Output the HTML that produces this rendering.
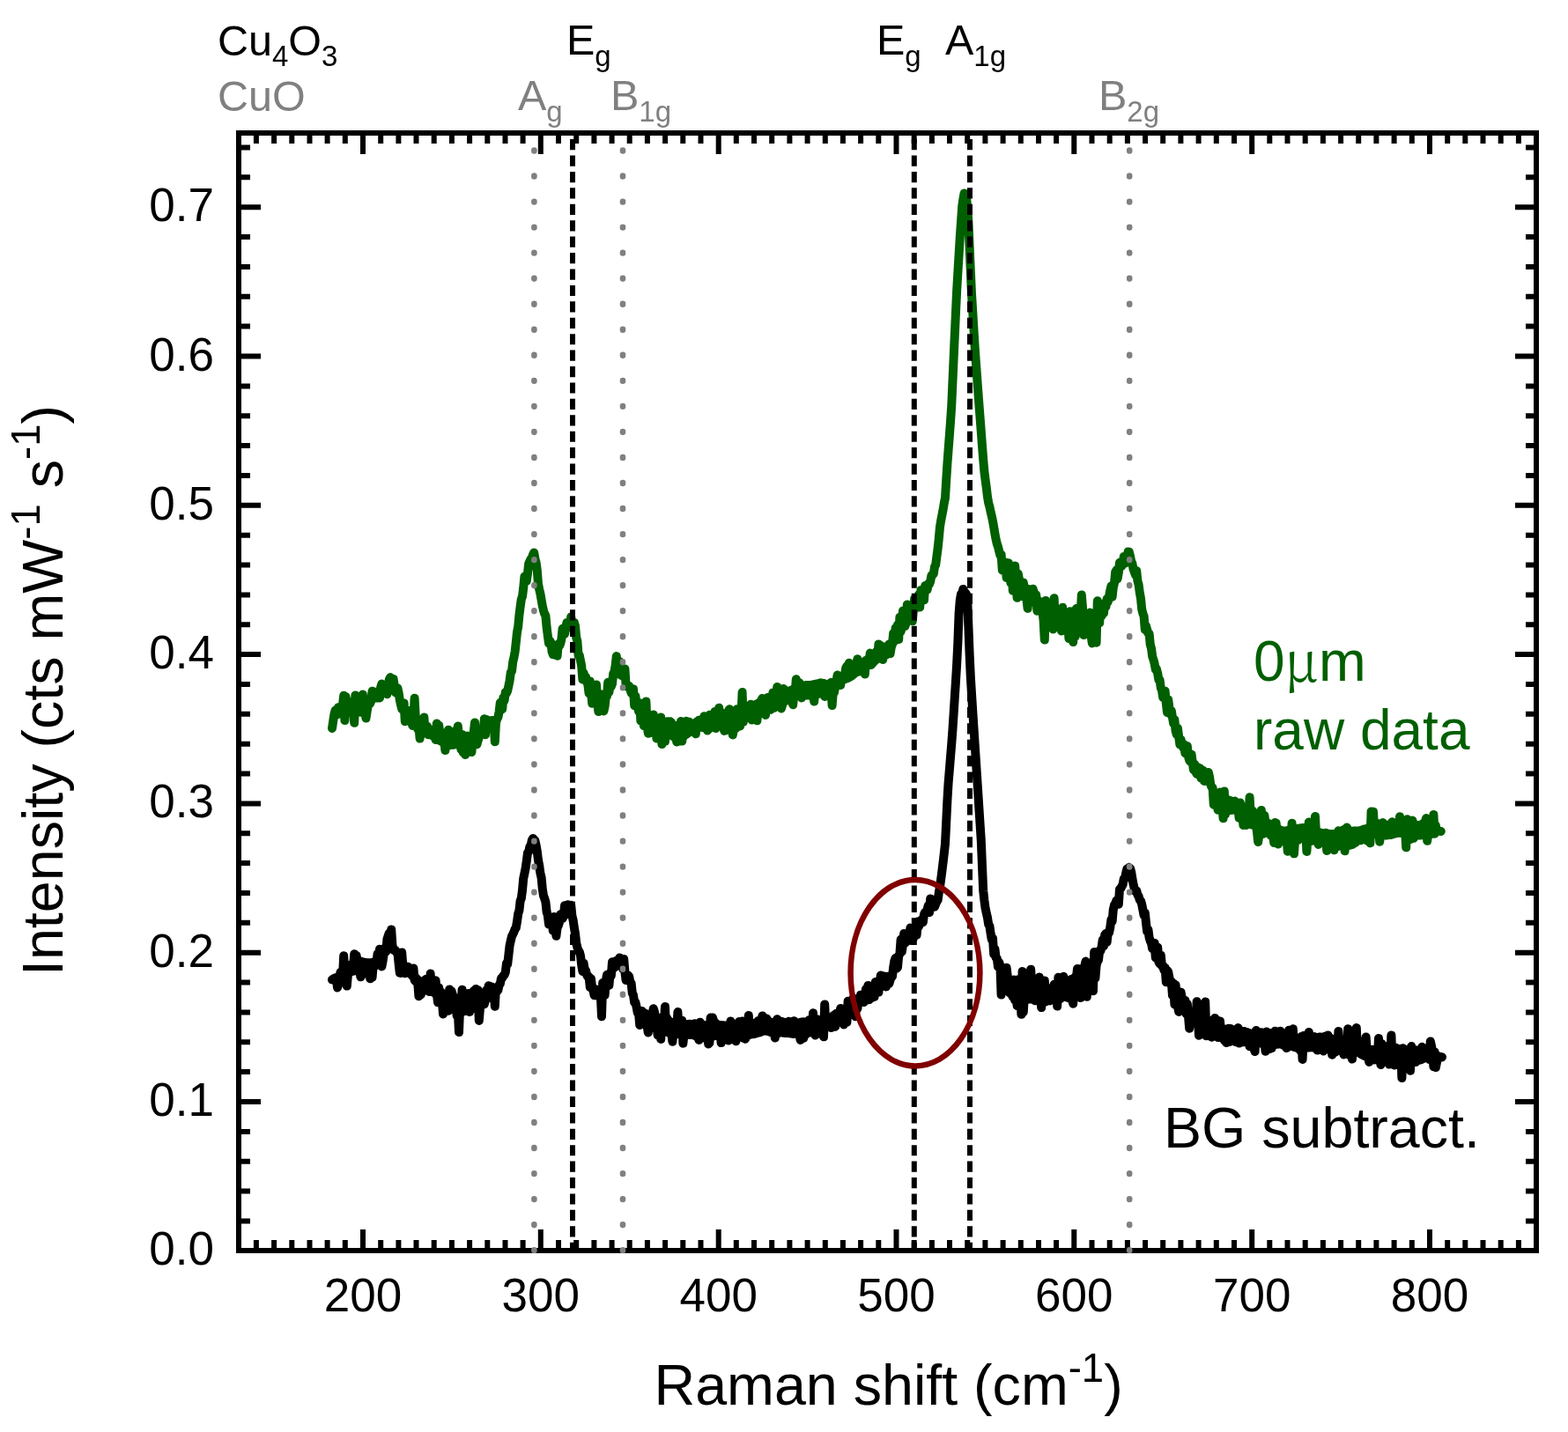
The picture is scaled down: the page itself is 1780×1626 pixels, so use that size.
<!DOCTYPE html>
<html><head><meta charset="utf-8"><title>Raman spectra</title>
<style>html,body{margin:0;padding:0;background:#fff;}svg{display:block;}</style>
</head><body>
<svg width="1780" height="1626" viewBox="0 0 1780 1626"><rect width="100%" height="100%" fill="#fff"/><path d="M377.0 826.9L379.4 810.9L381.8 805.8L384.2 804.4L386.6 803.5L389.0 799.3L391.4 794.4L393.8 794.4L396.2 793.2L398.6 791.7L401.0 789.9L403.4 788.3L405.8 787.4L408.2 787.6L410.6 788.0L413.0 791.2L415.4 793.2L417.8 792.3L420.2 790.1L422.6 787.5L425.0 784.6L427.4 781.6L429.8 779.3L432.2 777.5L434.6 775.9L437.0 774.0L439.4 772.1L441.8 773.6L444.2 773.2L446.6 775.8L449.0 778.1L451.4 783.1L453.8 790.1L456.2 796.7L458.6 802.9L461.0 809.0L463.4 810.4L465.8 810.8L468.2 810.1L470.6 808.4L473.0 809.6L475.4 811.5L477.8 813.5L480.2 815.8L482.6 818.4L485.0 821.0L487.4 823.1L489.8 825.0L492.2 826.4L494.6 827.5L497.0 827.6L499.4 827.6L501.8 827.9L504.2 829.0L506.6 830.2L509.0 830.5L511.4 830.4L513.8 829.7L516.2 828.9L518.6 828.8L521.0 829.3L523.4 829.9L525.8 830.6L528.2 831.2L530.6 830.5L533.0 831.1L535.4 832.7L537.8 833.8L540.2 833.6L542.6 831.0L545.0 828.0L547.4 824.9L549.8 822.5L552.2 821.0L554.6 820.3L557.0 821.7L559.4 822.4L561.8 822.3L564.2 817.4L566.6 811.5L569.0 804.8L571.4 797.3L573.8 789.3L576.2 781.3L578.6 769.7L581.0 758.5L583.4 744.4L585.8 728.5L588.2 709.1L590.6 689.5L593.0 673.9L595.4 659.6L597.8 647.8L600.2 639.2L602.6 631.8L605.0 628.1L607.4 631.9L609.8 647.5L612.2 666.8L614.6 678.2L617.0 689.8L619.4 702.0L621.8 714.2L624.2 725.6L626.6 729.9L629.0 733.8L631.4 737.5L633.8 734.0L636.2 728.2L638.6 722.0L641.0 714.6L643.4 706.3L645.8 702.1L648.2 704.7L650.6 707.5L653.0 715.2L655.4 729.2L657.8 742.6L660.2 755.6L662.6 766.4L665.0 770.8L667.4 775.2L669.8 779.9L672.2 783.8L674.6 787.4L677.0 791.2L679.4 795.5L681.8 799.5L684.2 801.4L686.6 793.3L689.0 785.0L691.4 777.0L693.8 770.2L696.2 763.6L698.6 758.9L701.0 755.3L703.4 755.3L705.8 758.8L708.2 763.6L710.6 769.3L713.0 774.7L715.4 780.6L717.8 786.7L720.2 792.7L722.6 797.5L725.0 802.0L727.4 806.3L729.8 809.4L732.2 812.1L734.6 815.3L737.0 817.7L739.4 818.5L741.8 818.5L744.2 817.7L746.6 816.7L749.0 816.6L751.4 817.2L753.8 817.8L756.2 818.0L758.6 818.1L761.0 818.2L763.4 818.6L765.8 818.8L768.2 819.3L770.6 820.0L773.0 821.9L775.4 823.3L777.8 822.9L780.2 821.7L782.6 820.1L785.0 818.2L787.4 816.1L789.8 814.5L792.2 813.4L794.6 812.6L797.0 811.6L799.4 810.9L801.8 810.8L804.2 810.7L806.6 810.3L809.0 809.5L811.4 808.7L813.8 808.2L816.2 807.9L818.6 807.7L821.0 807.9L823.4 808.5L825.8 809.0L828.2 808.9L830.6 807.8L833.0 806.4L835.4 804.8L837.8 803.2L840.2 801.7L842.6 800.4L845.0 799.3L847.4 798.4L849.8 797.5L852.2 797.0L854.6 796.1L857.0 794.9L859.4 793.6L861.8 792.7L864.2 792.3L866.6 792.8L869.0 792.7L871.4 791.8L873.8 790.2L876.2 788.2L878.6 786.1L881.0 784.3L883.4 783.0L885.8 782.2L888.2 781.4L890.6 780.8L893.0 780.5L895.4 779.6L897.8 778.4L900.2 777.2L902.6 776.0L905.0 775.1L907.4 774.5L909.8 774.0L912.2 773.5L914.6 772.9L917.0 772.9L919.4 772.9L921.8 772.6L924.2 772.1L926.6 771.6L929.0 771.2L931.4 770.9L933.8 770.7L936.2 771.1L938.6 772.1L941.0 773.1L943.4 773.1L945.8 771.6L948.2 769.5L950.6 767.3L953.0 764.9L955.4 762.8L957.8 761.0L960.2 759.5L962.6 758.0L965.0 757.0L967.4 756.0L969.8 754.6L972.2 752.8L974.6 750.7L977.0 748.6L979.4 746.7L981.8 745.3L984.2 743.9L986.6 742.3L989.0 740.3L991.4 738.9L993.8 737.8L996.2 738.1L998.6 738.4L1001.0 738.4L1003.4 737.7L1005.8 734.8L1008.2 731.2L1010.6 727.6L1013.0 723.9L1015.4 719.3L1017.8 714.3L1020.2 709.2L1022.6 704.8L1025.0 700.7L1027.4 696.7L1029.8 693.2L1032.2 690.6L1034.6 688.1L1037.0 685.7L1039.4 682.9L1041.8 679.3L1044.2 675.4L1046.6 671.2L1049.0 666.1L1051.4 660.8L1053.8 656.9L1056.2 652.8L1058.6 648.7L1061.0 644.7L1063.4 632.0L1065.8 609.7L1068.2 590.5L1070.6 577.5L1073.0 564.3L1075.4 526.1L1077.8 494.3L1080.2 460.6L1082.6 406.8L1085.0 353.8L1087.4 308.5L1089.8 268.6L1092.2 234.2L1094.6 222.0L1097.0 222.9L1099.4 252.2L1101.8 306.3L1104.2 353.0L1106.6 392.7L1109.0 426.1L1111.4 458.2L1113.8 489.7L1116.2 521.0L1118.6 544.3L1121.0 563.8L1123.4 574.9L1125.8 586.0L1128.2 597.3L1130.6 610.9L1133.0 621.5L1135.4 626.5L1137.8 631.8L1140.2 638.0L1142.6 644.0L1145.0 650.9L1147.4 652.7L1149.8 653.7L1152.2 653.9L1154.6 653.4L1157.0 653.8L1159.4 656.7L1161.8 659.3L1164.2 661.5L1166.6 663.9L1169.0 666.3L1171.4 670.6L1173.8 674.6L1176.2 678.3L1178.6 681.9L1181.0 685.4L1183.4 687.3L1185.8 688.1L1188.2 688.8L1190.6 689.9L1193.0 691.8L1195.4 693.1L1197.8 693.7L1200.2 693.6L1202.6 694.6L1205.0 695.4L1207.4 696.9L1209.8 698.8L1212.2 700.7L1214.6 702.3L1217.0 703.5L1219.4 703.7L1221.8 701.4L1224.2 699.8L1226.6 698.7L1229.0 698.1L1231.4 698.0L1233.8 698.2L1236.2 700.7L1238.6 703.4L1241.0 705.0L1243.4 705.4L1245.8 702.3L1248.2 698.0L1250.6 693.4L1253.0 688.9L1255.4 683.9L1257.8 677.2L1260.2 669.9L1262.6 662.5L1265.0 654.4L1267.4 646.8L1269.8 643.0L1272.2 640.2L1274.6 636.5L1277.0 632.9L1279.4 629.9L1281.8 625.5L1284.2 633.5L1286.6 642.9L1289.0 651.9L1291.4 661.6L1293.8 671.5L1296.2 685.7L1298.6 701.6L1301.0 710.1L1303.4 718.2L1305.8 727.7L1308.2 737.8L1310.6 748.3L1313.0 758.8L1315.4 769.9L1317.8 779.7L1320.2 786.5L1322.6 792.7L1325.0 798.6L1327.4 804.4L1329.8 811.0L1332.2 818.0L1334.6 825.0L1337.0 831.1L1339.4 835.6L1341.8 839.3L1344.2 842.6L1346.6 846.3L1349.0 850.5L1351.4 854.2L1353.8 857.7L1356.2 860.9L1358.6 863.8L1361.0 866.9L1363.4 869.8L1365.8 873.2L1368.2 876.9L1370.6 879.9L1373.0 882.7L1375.4 886.6L1377.8 893.5L1380.2 900.4L1382.6 906.7L1385.0 908.6L1387.4 908.6L1389.8 907.1L1392.2 903.9L1394.6 903.0L1397.0 903.9L1399.4 904.7L1401.8 905.7L1404.2 908.4L1406.6 911.6L1409.0 914.8L1411.4 917.4L1413.8 919.5L1416.2 921.2L1418.6 922.4L1421.0 923.4L1423.4 924.7L1425.8 926.1L1428.2 927.2L1430.6 927.9L1433.0 928.4L1435.4 928.3L1437.8 928.3L1440.2 929.4L1442.6 930.8L1445.0 931.6L1447.4 932.4L1449.8 933.6L1452.2 935.7L1454.6 937.5L1457.0 938.5L1459.4 938.6L1461.8 937.8L1464.2 936.6L1466.6 936.5L1469.0 936.3L1471.4 936.1L1473.8 935.8L1476.2 935.3L1478.6 935.0L1481.0 935.1L1483.4 935.2L1485.8 935.7L1488.2 936.6L1490.6 937.8L1493.0 939.0L1495.4 939.8L1497.8 940.3L1500.2 940.8L1502.6 941.2L1505.0 941.8L1507.4 942.2L1509.8 942.2L1512.2 942.0L1514.6 942.0L1517.0 942.6L1519.4 943.3L1521.8 943.5L1524.2 943.1L1526.6 942.3L1529.0 941.3L1531.4 940.1L1533.8 939.1L1536.2 938.5L1538.6 938.4L1541.0 938.5L1543.4 938.5L1545.8 938.0L1548.2 937.0L1550.6 935.8L1553.0 934.8L1555.4 933.9L1557.8 932.9L1560.2 932.0L1562.6 931.5L1565.0 931.3L1567.4 931.3L1569.8 931.5L1572.2 932.0L1574.6 932.0L1577.0 931.6L1579.4 931.2L1581.8 930.7L1584.2 930.1L1586.6 929.5L1589.0 929.3L1591.4 929.3L1593.8 929.5L1596.2 930.1L1598.6 930.9L1601.0 931.7L1603.4 932.1L1605.8 932.2L1608.2 932.1L1610.6 932.1L1613.0 932.0L1615.4 931.5L1617.8 930.8L1620.2 930.3L1622.6 930.4L1625.0 941.3L1627.4 942.0L1629.8 942.7L1632.2 943.2L1634.6 943.6L1634.6 943.8L1632.2 943.4L1629.8 942.9L1627.4 942.2L1625.0 941.7L1622.6 951.8L1620.2 951.7L1617.8 952.3L1615.4 953.1L1613.0 953.5L1610.6 953.6L1608.2 953.6L1605.8 953.4L1603.4 953.3L1601.0 952.8L1598.6 952.1L1596.2 951.3L1593.8 950.7L1591.4 950.5L1589.0 950.6L1586.6 951.0L1584.2 951.5L1581.8 952.2L1579.4 952.7L1577.0 953.0L1574.6 953.5L1572.2 953.5L1569.8 953.3L1567.4 952.7L1565.0 952.1L1562.6 951.9L1560.2 952.3L1557.8 953.1L1555.4 954.1L1553.0 955.0L1550.6 956.0L1548.2 957.2L1545.8 958.2L1543.4 958.7L1541.0 958.9L1538.6 958.7L1536.2 958.7L1533.8 959.3L1531.4 960.3L1529.0 961.5L1526.6 962.5L1524.2 963.3L1521.8 963.8L1519.4 964.0L1517.0 964.0L1514.6 963.9L1512.2 963.6L1509.8 963.4L1507.4 963.4L1505.0 963.1L1502.6 962.2L1500.2 961.2L1497.8 960.4L1495.4 959.9L1493.0 959.1L1490.6 957.9L1488.2 956.7L1485.8 955.8L1483.4 955.3L1481.0 955.5L1478.6 956.2L1476.2 956.9L1473.8 957.4L1471.4 957.8L1469.0 958.0L1466.6 958.2L1464.2 957.9L1461.8 957.2L1459.4 956.9L1457.0 956.7L1454.6 955.8L1452.2 954.0L1449.8 951.9L1447.4 950.6L1445.0 949.9L1442.6 949.4L1440.2 949.3L1437.8 949.0L1435.4 948.3L1433.0 947.5L1430.6 946.4L1428.2 945.2L1425.8 943.9L1423.4 942.2L1421.0 940.0L1418.6 937.8L1416.2 935.5L1413.8 933.4L1411.4 931.2L1409.0 928.6L1406.6 925.5L1404.2 922.3L1401.8 919.6L1399.4 918.5L1397.0 918.8L1394.6 920.5L1392.2 920.8L1389.8 918.6L1387.4 917.2L1385.0 916.4L1382.6 914.6L1380.2 908.2L1377.8 901.4L1375.4 894.5L1373.0 890.6L1370.6 887.9L1368.2 886.2L1365.8 884.8L1363.4 882.6L1361.0 879.4L1358.6 875.8L1356.2 872.1L1353.8 868.7L1351.4 865.1L1349.0 861.4L1346.6 856.7L1344.2 851.6L1341.8 847.2L1339.4 842.9L1337.0 838.4L1334.6 832.3L1332.2 825.2L1329.8 818.2L1327.4 811.4L1325.0 804.5L1322.6 798.0L1320.2 791.3L1317.8 784.5L1315.4 774.7L1313.0 763.6L1310.6 753.1L1308.2 742.6L1305.8 732.0L1303.4 722.3L1301.0 714.1L1298.6 705.6L1296.2 689.7L1293.8 675.6L1291.4 665.7L1289.0 655.9L1286.6 647.0L1284.2 638.5L1281.8 631.0L1279.4 635.6L1277.0 641.4L1274.6 645.3L1272.2 647.3L1269.8 649.6L1267.4 653.4L1265.0 661.0L1262.6 669.1L1260.2 676.5L1257.8 683.8L1255.4 690.5L1253.0 695.7L1250.6 700.9L1248.2 706.2L1245.8 711.3L1243.4 715.1L1241.0 715.1L1238.6 716.2L1236.2 718.0L1233.8 719.0L1231.4 717.5L1229.0 717.5L1226.6 718.1L1224.2 719.2L1221.8 720.7L1219.4 721.7L1217.0 721.1L1214.6 719.9L1212.2 718.3L1209.8 716.4L1207.4 714.4L1205.0 712.9L1202.6 712.2L1200.2 712.0L1197.8 711.0L1195.4 710.4L1193.0 709.0L1190.6 706.6L1188.2 703.6L1185.8 701.0L1183.4 699.3L1181.0 697.0L1178.6 693.5L1176.2 689.9L1173.8 686.1L1171.4 682.1L1169.0 677.8L1166.6 675.4L1164.2 673.5L1161.8 672.3L1159.4 671.6L1157.0 670.8L1154.6 668.0L1152.2 664.6L1149.8 662.2L1147.4 660.2L1145.0 658.4L1142.6 651.6L1140.2 643.9L1137.8 636.6L1135.4 630.7L1133.0 625.7L1130.6 614.9L1128.2 600.5L1125.8 588.5L1123.4 576.9L1121.0 565.6L1118.6 546.0L1116.2 522.5L1113.8 491.1L1111.4 459.4L1109.0 427.3L1106.6 393.9L1104.2 354.2L1101.8 307.4L1099.4 253.3L1097.0 224.0L1094.6 223.1L1092.2 235.3L1089.8 269.7L1087.4 309.6L1085.0 354.9L1082.6 407.9L1080.2 461.7L1077.8 495.4L1075.4 527.2L1073.0 565.6L1070.6 578.8L1068.2 592.2L1065.8 611.9L1063.4 634.7L1061.0 647.6L1058.6 651.7L1056.2 656.1L1053.8 661.9L1051.4 668.9L1049.0 675.1L1046.6 680.1L1044.2 684.4L1041.8 688.6L1039.4 692.8L1037.0 696.5L1034.6 699.7L1032.2 702.0L1029.8 703.8L1027.4 706.7L1025.0 710.5L1022.6 714.6L1020.2 719.0L1017.8 724.0L1015.4 729.1L1013.0 733.6L1010.6 737.3L1008.2 741.4L1005.8 745.6L1003.4 749.1L1001.0 750.3L998.6 752.0L996.2 754.3L993.8 756.9L991.4 758.1L989.0 759.4L986.6 760.5L984.2 761.2L981.8 762.2L979.4 763.6L977.0 765.4L974.6 767.5L972.2 769.6L969.8 771.5L967.4 772.9L965.0 774.3L962.6 775.2L960.2 775.9L957.8 777.1L955.4 778.9L953.0 781.0L950.6 783.4L948.2 785.7L945.8 787.7L943.4 789.2L941.0 789.7L938.6 790.6L936.2 791.6L933.8 792.3L931.4 792.5L929.0 792.8L926.6 793.2L924.2 793.7L921.8 794.2L919.4 794.5L917.0 794.6L914.6 794.6L912.2 794.6L909.8 794.4L907.4 794.4L905.0 794.9L902.6 795.8L900.2 797.0L897.8 798.2L895.4 799.4L893.0 800.3L890.6 800.7L888.2 800.1L885.8 799.6L883.4 800.1L881.0 801.4L878.6 803.3L876.2 805.4L873.8 807.4L871.4 808.9L869.0 809.9L866.6 810.8L864.2 811.8L861.8 812.6L859.4 813.5L857.0 814.8L854.6 816.0L852.2 816.9L849.8 817.4L847.4 817.5L845.0 817.9L842.6 818.9L840.2 820.1L837.8 821.7L835.4 823.3L833.0 824.9L830.6 826.3L828.2 827.4L825.8 827.8L823.4 828.4L821.0 829.0L818.6 829.0L816.2 829.1L813.8 829.4L811.4 829.9L809.0 830.7L806.6 831.4L804.2 831.9L801.8 832.0L799.4 831.6L797.0 830.9L794.6 830.5L792.2 830.8L789.8 831.9L787.4 833.5L785.0 835.6L782.6 837.5L780.2 839.1L777.8 840.3L775.4 841.2L773.0 841.0L770.6 840.9L768.2 840.2L765.8 839.7L763.4 839.5L761.0 839.6L758.6 839.5L756.2 839.4L753.8 839.1L751.4 838.5L749.0 837.8L746.6 836.5L744.2 834.4L741.8 832.9L739.4 831.4L737.0 829.9L734.6 826.7L732.2 822.7L729.8 819.0L727.4 815.3L725.0 810.4L722.6 805.8L720.2 801.1L717.8 795.1L715.4 788.9L713.0 783.1L710.6 777.7L708.2 771.9L705.8 767.3L703.4 764.1L701.0 762.9L698.6 765.7L696.2 770.0L693.8 776.6L691.4 783.4L689.0 791.5L686.6 799.7L684.2 807.8L681.8 805.9L679.4 803.6L677.0 800.9L674.6 796.9L672.2 792.1L669.8 786.1L667.4 780.1L665.0 774.8L662.6 770.3L660.2 759.5L657.8 746.5L655.4 733.0L653.0 719.1L650.6 711.4L648.2 708.8L645.8 707.4L643.4 713.2L641.0 721.5L638.6 728.9L636.2 735.1L633.8 740.9L631.4 743.7L629.0 738.7L626.6 734.2L624.2 729.9L621.8 718.3L619.4 705.5L617.0 693.3L614.6 681.7L612.2 670.2L609.8 650.9L607.4 635.4L605.0 631.5L602.6 635.6L600.2 642.6L597.8 650.8L595.4 662.5L593.0 676.8L590.6 692.4L588.2 712.0L585.8 731.4L583.4 747.3L581.0 761.4L578.6 772.8L576.2 784.7L573.8 793.3L571.4 801.8L569.0 810.0L566.6 817.2L564.2 823.8L561.8 829.2L559.4 830.0L557.0 831.5L554.6 834.0L552.2 835.2L549.8 836.7L547.4 839.1L545.0 842.2L542.6 845.2L540.2 847.8L537.8 848.0L535.4 848.5L533.0 850.2L530.6 851.8L528.2 852.5L525.8 852.0L523.4 851.3L521.0 850.6L518.6 850.2L516.2 850.2L513.8 850.8L511.4 850.8L509.0 850.7L506.6 850.5L504.2 849.3L501.8 848.0L499.4 846.5L497.0 845.3L494.6 844.2L492.2 842.2L489.8 840.4L487.4 838.5L485.0 836.3L482.6 833.8L480.2 831.2L477.8 828.9L475.4 826.8L473.0 825.2L470.6 824.6L468.2 822.0L465.8 819.9L463.4 818.1L461.0 816.6L458.6 810.4L456.2 804.2L453.8 797.6L451.4 790.6L449.0 785.6L446.6 783.5L444.2 782.2L441.8 785.0L439.4 789.7L437.0 790.7L434.6 791.0L432.2 791.9L429.8 793.6L427.4 796.0L425.0 799.0L422.6 801.9L420.2 804.5L417.8 806.7L415.4 807.8L413.0 807.2L410.6 807.7L408.2 806.1L405.8 805.7L403.4 806.6L401.0 808.2L398.6 810.0L396.2 811.5L393.8 812.7L391.4 812.9L389.0 808.0L386.6 803.7L384.2 804.6L381.8 806.0L379.4 811.1L377.0 827.1Z" fill="#005f00"/><path d="M377.0 827.0L378.2 819.1L379.4 811.0L380.6 806.6L381.8 805.9L383.0 811.3L384.2 803.3L385.4 803.1L386.6 805.2L387.8 803.5L389.0 800.2L390.2 789.7L391.4 818.0L392.6 791.3L393.8 800.8L395.0 808.1L396.2 805.3L397.4 806.1L398.6 806.8L399.8 809.8L401.0 801.4L402.2 820.8L403.4 789.5L404.6 798.5L405.8 793.7L407.0 792.3L408.2 799.1L409.4 808.7L410.6 792.3L411.8 788.5L413.0 804.8L414.2 804.1L415.4 815.6L416.6 808.2L417.8 801.2L419.0 796.0L420.2 798.9L421.4 794.8L422.6 784.7L423.8 793.3L425.0 790.5L426.2 788.5L427.4 785.6L428.6 792.6L429.8 791.6L431.0 792.5L432.2 780.2L433.4 776.4L434.6 781.4L435.8 784.8L437.0 779.7L438.2 780.2L439.4 788.2L440.6 782.4L441.8 771.6L443.0 769.1L444.2 772.6L445.4 780.0L446.6 771.0L447.8 779.5L449.0 786.5L450.2 783.6L451.4 781.2L452.6 786.7L453.8 794.6L455.0 800.1L456.2 805.2L457.4 802.6L458.6 798.2L459.8 819.3L461.0 814.9L462.2 816.5L463.4 816.5L464.6 807.1L465.8 812.9L467.0 817.7L468.2 823.9L469.4 816.7L470.6 792.7L471.8 814.9L473.0 820.1L474.2 828.0L475.4 824.5L476.6 838.6L477.8 831.7L479.0 832.3L480.2 830.5L481.4 814.5L482.6 832.4L483.8 831.9L485.0 824.7L486.2 834.2L487.4 834.0L488.6 828.3L489.8 831.8L491.0 831.6L492.2 836.1L493.4 831.8L494.6 840.0L495.8 821.5L497.0 834.3L498.2 823.7L499.4 833.3L500.6 841.4L501.8 838.1L503.0 837.7L504.2 839.7L505.4 852.1L506.6 831.7L507.8 847.4L509.0 828.8L510.2 837.0L511.4 841.9L512.6 833.8L513.8 841.8L515.0 845.6L516.2 830.2L517.4 838.7L518.6 836.6L519.8 824.6L521.0 838.5L522.2 834.1L523.4 851.0L524.6 834.1L525.8 854.5L527.0 837.5L528.2 856.9L529.4 845.7L530.6 844.7L531.8 847.1L533.0 847.7L534.2 851.5L535.4 854.1L536.6 838.1L537.8 831.2L539.0 820.4L540.2 837.7L541.4 845.3L542.6 841.0L543.8 837.5L545.0 832.4L546.2 828.7L547.4 829.9L548.6 833.6L549.8 816.3L551.0 834.2L552.2 817.1L553.4 826.3L554.6 822.3L555.8 824.0L557.0 823.2L558.2 817.9L559.4 824.5L560.6 818.5L561.8 842.2L563.0 820.7L564.2 816.5L565.4 814.3L566.6 808.4L567.8 797.8L569.0 806.0L570.2 805.3L571.4 792.0L572.6 795.4L573.8 785.9L575.0 787.1L576.2 784.3L577.4 778.8L578.6 772.7L579.8 763.5L581.0 762.3L582.2 751.8L583.4 746.6L584.6 740.1L585.8 729.3L587.0 717.8L588.2 711.6L589.4 698.6L590.6 689.2L591.8 680.5L593.0 677.3L594.2 667.6L595.4 654.6L596.6 657.6L597.8 659.9L599.0 650.8L600.2 640.1L601.4 637.4L602.6 634.7L603.8 633.5L605.0 629.9L606.2 627.4L607.4 634.7L608.6 638.8L609.8 647.9L611.0 663.3L612.2 669.1L613.4 674.1L614.6 681.2L615.8 688.0L617.0 693.2L618.2 697.0L619.4 699.2L620.6 712.2L621.8 721.6L623.0 730.6L624.2 727.5L625.4 729.7L626.6 740.0L627.8 743.3L629.0 738.6L630.2 743.8L631.4 734.5L632.6 744.7L633.8 731.3L635.0 733.5L636.2 730.8L637.4 725.8L638.6 713.8L639.8 717.4L641.0 720.0L642.2 713.4L643.4 706.9L644.6 708.6L645.8 709.8L647.0 712.1L648.2 700.5L649.4 708.1L650.6 707.5L651.8 706.6L653.0 710.6L654.2 723.8L655.4 728.1L656.6 744.3L657.8 744.2L659.0 750.3L660.2 756.1L661.4 771.5L662.6 764.1L663.8 769.7L665.0 768.6L666.2 774.3L667.4 777.3L668.6 787.4L669.8 773.5L671.0 785.6L672.2 798.8L673.4 786.5L674.6 790.8L675.8 787.8L677.0 777.5L678.2 797.0L679.4 808.1L680.6 797.4L681.8 788.1L683.0 806.1L684.2 805.1L685.4 807.4L686.6 802.2L687.8 790.7L689.0 790.3L690.2 774.7L691.4 785.9L692.6 777.7L693.8 779.6L695.0 776.4L696.2 764.9L697.4 762.9L698.6 755.9L699.8 745.1L701.0 758.0L702.2 759.2L703.4 751.2L704.6 766.5L705.8 763.6L707.0 767.8L708.2 762.6L709.4 759.4L710.6 778.2L711.8 779.8L713.0 778.2L714.2 779.1L715.4 783.0L716.6 786.9L717.8 787.9L719.0 782.4L720.2 801.3L721.4 790.5L722.6 799.5L723.8 802.0L725.0 807.8L726.2 798.1L727.4 818.6L728.6 816.9L729.8 819.2L731.0 824.3L732.2 811.7L733.4 796.4L734.6 823.4L735.8 832.7L737.0 832.5L738.2 820.2L739.4 824.2L740.6 827.5L741.8 811.6L743.0 820.6L744.2 821.1L745.4 838.6L746.6 821.5L747.8 839.1L749.0 827.2L750.2 814.4L751.4 845.1L752.6 820.6L753.8 833.3L755.0 841.9L756.2 824.5L757.4 819.2L758.6 831.4L759.8 829.3L761.0 819.3L762.2 820.5L763.4 826.0L764.6 836.6L765.8 827.0L767.0 834.6L768.2 842.6L769.4 839.9L770.6 841.6L771.8 840.5L773.0 818.9L774.2 841.5L775.4 834.8L776.6 831.0L777.8 823.2L779.0 818.8L780.2 821.8L781.4 829.5L782.6 819.7L783.8 821.6L785.0 822.1L786.2 831.0L787.4 822.6L788.6 822.8L789.8 833.4L791.0 820.1L792.2 826.7L793.4 817.8L794.6 824.1L795.8 822.3L797.0 822.6L798.2 823.6L799.4 813.2L800.6 819.0L801.8 817.8L803.0 829.5L804.2 828.4L805.4 811.8L806.6 825.7L807.8 816.8L809.0 823.7L810.2 815.9L811.4 807.9L812.6 826.9L813.8 822.3L815.0 809.0L816.2 803.7L817.4 814.2L818.6 809.2L819.8 815.6L821.0 823.3L822.2 829.9L823.4 815.7L824.6 829.2L825.8 827.5L827.0 806.9L828.2 805.2L829.4 824.2L830.6 821.8L831.8 834.5L833.0 826.7L834.2 820.9L835.4 827.1L836.6 805.2L837.8 813.9L839.0 809.6L840.2 824.4L841.4 814.6L842.6 786.1L843.8 819.7L845.0 801.7L846.2 814.3L847.4 804.3L848.6 809.7L849.8 812.5L851.0 808.8L852.2 799.7L853.4 817.5L854.6 809.3L855.8 805.5L857.0 810.4L858.2 800.2L859.4 818.3L860.6 804.9L861.8 805.6L863.0 805.1L864.2 795.1L865.4 792.9L866.6 803.6L867.8 804.4L869.0 811.9L870.2 804.6L871.4 792.1L872.6 803.9L873.8 805.3L875.0 805.7L876.2 799.5L877.4 786.4L878.6 803.8L879.8 788.2L881.0 797.4L882.2 780.1L883.4 797.6L884.6 785.2L885.8 799.4L887.0 804.6L888.2 800.0L889.4 781.9L890.6 783.6L891.8 784.0L893.0 795.6L894.2 792.8L895.4 790.9L896.6 791.5L897.8 793.0L899.0 792.9L900.2 800.3L901.4 786.2L902.6 787.6L903.8 771.2L905.0 774.9L906.2 779.4L907.4 775.4L908.6 786.1L909.8 792.4L911.0 780.9L912.2 780.4L913.4 780.0L914.6 784.8L915.8 779.5L917.0 787.1L918.2 786.2L919.4 786.4L920.6 789.6L921.8 783.7L923.0 784.3L924.2 796.6L925.4 782.3L926.6 788.6L927.8 782.6L929.0 778.4L930.2 778.3L931.4 775.3L932.6 781.7L933.8 776.8L935.0 778.1L936.2 790.9L937.4 780.3L938.6 790.2L939.8 783.4L941.0 788.1L942.2 776.6L943.4 774.8L944.6 801.0L945.8 786.0L947.0 786.3L948.2 779.3L949.4 774.3L950.6 766.5L951.8 767.6L953.0 776.2L954.2 778.1L955.4 767.7L956.6 768.4L957.8 766.3L959.0 766.9L960.2 758.5L961.4 756.2L962.6 765.9L963.8 752.8L965.0 758.1L966.2 759.9L967.4 756.4L968.6 765.5L969.8 759.6L971.0 761.4L972.2 753.4L973.4 748.3L974.6 762.8L975.8 760.6L977.0 753.3L978.2 758.6L979.4 756.4L980.6 755.4L981.8 765.5L983.0 749.9L984.2 755.5L985.4 755.0L986.6 749.4L987.8 741.6L989.0 754.9L990.2 750.8L991.4 748.6L992.6 747.9L993.8 747.3L995.0 739.6L996.2 748.2L997.4 731.4L998.6 744.7L999.8 733.0L1001.0 741.3L1002.2 749.0L1003.4 741.2L1004.6 738.3L1005.8 743.6L1007.0 736.0L1008.2 733.1L1009.4 731.3L1010.6 742.2L1011.8 734.6L1013.0 731.5L1014.2 718.8L1015.4 727.8L1016.6 713.1L1017.8 721.8L1019.0 709.3L1020.2 726.0L1021.4 700.7L1022.6 717.1L1023.8 712.4L1025.0 693.5L1026.2 701.6L1027.4 711.1L1028.6 707.2L1029.8 686.6L1031.0 693.4L1032.2 687.6L1033.4 687.4L1034.6 688.9L1035.8 705.2L1037.0 691.6L1038.2 679.5L1039.4 685.1L1040.6 690.1L1041.8 688.3L1043.0 675.2L1044.2 689.5L1045.4 670.1L1046.6 673.4L1047.8 676.0L1049.0 681.3L1050.2 665.1L1051.4 666.2L1052.6 669.8L1053.8 662.8L1055.0 663.3L1056.2 660.2L1057.4 653.3L1058.6 652.9L1059.8 651.5L1061.0 643.6L1062.2 641.3L1063.4 631.9L1064.6 623.0L1065.8 611.6L1067.0 598.2L1068.2 591.0L1069.4 584.9L1070.6 578.5L1071.8 571.3L1073.0 565.2L1074.2 545.1L1075.4 526.6L1076.6 510.7L1077.8 495.0L1079.0 478.8L1080.2 461.1L1081.4 434.3L1082.6 407.2L1083.8 380.6L1085.0 354.4L1086.2 329.1L1087.4 309.0L1088.6 289.1L1089.8 269.0L1091.0 251.8L1092.2 234.3L1093.4 226.0L1094.6 219.4L1095.8 222.3L1097.0 224.3L1098.2 235.5L1099.4 252.9L1100.6 279.9L1101.8 307.1L1103.0 333.7L1104.2 353.4L1105.4 373.5L1106.6 393.2L1107.8 410.7L1109.0 426.7L1110.2 442.8L1111.4 458.8L1112.6 474.5L1113.8 490.1L1115.0 506.3L1116.2 521.7L1117.4 535.5L1118.6 545.0L1119.8 554.0L1121.0 564.0L1122.2 571.2L1123.4 575.3L1124.6 581.2L1125.8 585.9L1127.0 591.7L1128.2 598.5L1129.4 605.9L1130.6 612.4L1131.8 617.5L1133.0 620.9L1134.2 625.8L1135.4 630.4L1136.6 629.5L1137.8 647.5L1139.0 638.7L1140.2 641.7L1141.4 638.5L1142.6 655.9L1143.8 641.6L1145.0 639.2L1146.2 645.6L1147.4 661.9L1148.6 644.9L1149.8 670.7L1151.0 657.6L1152.2 642.5L1153.4 656.8L1154.6 678.7L1155.8 651.7L1157.0 658.2L1158.2 667.9L1159.4 677.1L1160.6 674.9L1161.8 661.6L1163.0 667.8L1164.2 670.2L1165.4 679.9L1166.6 690.9L1167.8 669.0L1169.0 684.3L1170.2 670.1L1171.4 681.4L1172.6 668.8L1173.8 672.5L1175.0 677.9L1176.2 675.0L1177.4 693.7L1178.6 681.7L1179.8 689.5L1181.0 689.6L1182.2 688.6L1183.4 693.9L1184.6 704.4L1185.8 726.6L1187.0 681.9L1188.2 698.7L1189.4 694.5L1190.6 687.7L1191.8 701.6L1193.0 690.1L1194.2 699.7L1195.4 714.4L1196.6 679.3L1197.8 704.3L1199.0 706.7L1200.2 691.6L1201.4 708.0L1202.6 706.4L1203.8 699.2L1205.0 716.5L1206.2 689.8L1207.4 711.8L1208.6 703.4L1209.8 695.5L1211.0 705.9L1212.2 705.0L1213.4 724.9L1214.6 694.3L1215.8 708.9L1217.0 706.6L1218.2 729.1L1219.4 699.7L1220.6 722.6L1221.8 691.1L1223.0 713.2L1224.2 707.2L1225.4 712.2L1226.6 699.9L1227.8 675.4L1229.0 690.1L1230.2 721.1L1231.4 709.2L1232.6 697.8L1233.8 717.5L1235.0 699.9L1236.2 700.3L1237.4 695.5L1238.6 721.8L1239.8 730.4L1241.0 698.7L1242.2 712.3L1243.4 719.5L1244.6 729.7L1245.8 682.3L1247.0 694.5L1248.2 707.2L1249.4 685.5L1250.6 699.1L1251.8 695.4L1253.0 696.2L1254.2 685.6L1255.4 689.1L1256.6 680.0L1257.8 683.4L1259.0 677.2L1260.2 670.7L1261.4 665.6L1262.6 677.7L1263.8 667.0L1265.0 662.0L1266.2 649.5L1267.4 647.4L1268.6 657.2L1269.8 650.4L1271.0 638.8L1272.2 643.4L1273.4 642.9L1274.6 638.9L1275.8 631.9L1277.0 639.6L1278.2 636.0L1279.4 632.0L1280.6 626.6L1281.8 626.7L1283.0 631.4L1284.2 637.5L1285.4 639.8L1286.6 646.3L1287.8 649.5L1289.0 652.9L1290.2 648.0L1291.4 659.5L1292.6 663.8L1293.8 672.9L1295.0 679.3L1296.2 691.7L1297.4 696.6L1298.6 699.7L1299.8 714.9L1301.0 710.6L1302.2 715.0L1303.4 719.0L1304.6 719.5L1305.8 731.9L1307.0 736.1L1308.2 745.5L1309.4 749.0L1310.6 753.4L1311.8 760.1L1313.0 759.9L1314.2 764.7L1315.4 771.8L1316.6 772.1L1317.8 781.1L1319.0 783.7L1320.2 792.0L1321.4 791.8L1322.6 784.6L1323.8 798.3L1325.0 809.0L1326.2 794.4L1327.4 803.5L1328.6 811.0L1329.8 807.1L1331.0 814.8L1332.2 821.6L1333.4 817.4L1334.6 830.0L1335.8 834.2L1337.0 827.0L1338.2 837.0L1339.4 845.5L1340.6 839.9L1341.8 845.6L1343.0 848.9L1344.2 845.3L1345.4 855.3L1346.6 853.8L1347.8 847.1L1349.0 859.2L1350.2 863.4L1351.4 864.9L1352.6 856.7L1353.8 866.2L1355.0 874.3L1356.2 867.9L1357.4 876.3L1358.6 878.9L1359.8 871.1L1361.0 877.7L1362.2 872.4L1363.4 883.7L1364.6 876.8L1365.8 874.8L1367.0 886.9L1368.2 880.8L1369.4 885.3L1370.6 887.1L1371.8 876.9L1373.0 882.0L1374.2 890.5L1375.4 893.6L1376.6 894.4L1377.8 913.8L1379.0 907.8L1380.2 903.7L1381.4 912.3L1382.6 919.8L1383.8 914.5L1385.0 899.6L1386.2 913.4L1387.4 913.2L1388.6 929.3L1389.8 898.6L1391.0 924.5L1392.2 911.1L1393.4 919.2L1394.6 909.5L1395.8 912.8L1397.0 920.1L1398.2 912.0L1399.4 919.7L1400.6 911.4L1401.8 909.6L1403.0 912.3L1404.2 911.6L1405.4 916.1L1406.6 928.8L1407.8 911.4L1409.0 915.5L1410.2 923.0L1411.4 937.0L1412.6 933.4L1413.8 936.5L1415.0 936.9L1416.2 922.9L1417.4 930.2L1418.6 905.2L1419.8 926.4L1421.0 936.5L1422.2 921.0L1423.4 926.2L1424.6 924.6L1425.8 936.8L1427.0 944.7L1428.2 956.0L1429.4 947.8L1430.6 925.8L1431.8 919.9L1433.0 939.3L1434.2 946.8L1435.4 926.0L1436.6 934.6L1437.8 935.4L1439.0 939.6L1440.2 938.3L1441.4 944.1L1442.6 948.7L1443.8 941.4L1445.0 947.0L1446.2 957.0L1447.4 934.0L1448.6 934.4L1449.8 947.2L1451.0 958.6L1452.2 946.6L1453.4 954.8L1454.6 944.8L1455.8 954.9L1457.0 947.3L1458.2 953.5L1459.4 951.4L1460.6 951.3L1461.8 966.8L1463.0 956.2L1464.2 943.3L1465.4 954.9L1466.6 934.8L1467.8 955.6L1469.0 969.3L1470.2 951.9L1471.4 951.7L1472.6 948.1L1473.8 953.9L1475.0 943.6L1476.2 952.1L1477.4 944.6L1478.6 943.1L1479.8 947.3L1481.0 945.7L1482.2 940.9L1483.4 966.9L1484.6 947.5L1485.8 933.5L1487.0 955.5L1488.2 947.4L1489.4 949.8L1490.6 954.4L1491.8 942.5L1493.0 927.0L1494.2 949.7L1495.4 952.7L1496.6 958.9L1497.8 945.5L1499.0 949.6L1500.2 955.1L1501.4 949.9L1502.6 950.8L1503.8 955.1L1505.0 945.7L1506.2 966.0L1507.4 946.6L1508.6 954.1L1509.8 951.2L1511.0 948.2L1512.2 957.9L1513.4 961.7L1514.6 965.3L1515.8 958.6L1517.0 950.8L1518.2 961.2L1519.4 943.3L1520.6 955.0L1521.8 958.7L1523.0 958.8L1524.2 945.2L1525.4 942.1L1526.6 966.3L1527.8 948.8L1529.0 939.4L1530.2 942.0L1531.4 951.2L1532.6 959.7L1533.8 950.0L1535.0 959.0L1536.2 951.2L1537.4 953.0L1538.6 957.0L1539.8 946.4L1541.0 951.8L1542.2 946.4L1543.4 944.4L1544.6 954.2L1545.8 942.4L1547.0 948.9L1548.2 941.6L1549.4 946.5L1550.6 942.5L1551.8 954.6L1553.0 946.2L1554.2 945.6L1555.4 957.4L1556.6 921.5L1557.8 934.8L1559.0 921.7L1560.2 942.6L1561.4 945.7L1562.6 947.2L1563.8 944.1L1565.0 935.3L1566.2 955.8L1567.4 944.7L1568.6 940.5L1569.8 934.1L1571.0 946.2L1572.2 939.3L1573.4 939.6L1574.6 944.6L1575.8 944.5L1577.0 936.2L1578.2 948.1L1579.4 934.4L1580.6 933.3L1581.8 944.1L1583.0 942.3L1584.2 941.6L1585.4 937.5L1586.6 940.8L1587.8 943.1L1589.0 927.3L1590.2 945.8L1591.4 932.1L1592.6 938.3L1593.8 946.0L1595.0 940.7L1596.2 962.2L1597.4 930.3L1598.6 935.8L1599.8 942.7L1601.0 953.0L1602.2 940.7L1603.4 931.6L1604.6 951.8L1605.8 935.7L1607.0 941.4L1608.2 942.9L1609.4 937.8L1610.6 939.5L1611.8 941.9L1613.0 941.3L1614.2 944.9L1615.4 935.0L1616.6 941.1L1617.8 933.1L1619.0 929.1L1620.2 954.8L1621.4 944.6L1622.6 948.3L1623.8 933.8L1625.0 941.3L1626.2 940.2L1627.4 924.9L1628.6 946.7L1629.8 937.2L1631.0 943.0L1632.2 943.3L1633.4 943.6L1634.6 943.8L1635.8 943.9" fill="none" stroke="#005f00" stroke-width="10" stroke-linejoin="round" stroke-linecap="round"/><path d="M377.0 1112.3L379.4 1110.8L381.8 1109.8L384.2 1109.1L386.6 1108.4L389.0 1098.5L391.4 1096.8L393.8 1094.8L396.2 1092.9L398.6 1091.4L401.0 1090.3L403.4 1089.2L405.8 1088.1L408.2 1087.1L410.6 1086.8L413.0 1087.4L415.4 1088.0L417.8 1088.3L420.2 1088.2L422.6 1087.8L425.0 1086.9L427.4 1085.7L429.8 1084.0L432.2 1081.5L434.6 1077.9L437.0 1072.8L439.4 1068.7L441.8 1065.7L444.2 1062.0L446.6 1068.5L449.0 1076.1L451.4 1085.0L453.8 1091.4L456.2 1093.3L458.6 1094.3L461.0 1094.6L463.4 1094.7L465.8 1097.6L468.2 1099.8L470.6 1102.1L473.0 1104.4L475.4 1106.6L477.8 1108.9L480.2 1110.9L482.6 1112.1L485.0 1112.6L487.4 1113.7L489.8 1114.9L492.2 1116.5L494.6 1118.7L497.0 1121.1L499.4 1123.2L501.8 1125.1L504.2 1126.9L506.6 1128.5L509.0 1129.9L511.4 1131.1L513.8 1132.2L516.2 1133.2L518.6 1133.5L521.0 1133.5L523.4 1132.8L525.8 1132.3L528.2 1132.9L530.6 1133.7L533.0 1133.8L535.4 1132.7L537.8 1131.3L540.2 1129.8L542.6 1128.3L545.0 1127.1L547.4 1126.1L549.8 1125.5L552.2 1124.9L554.6 1124.9L557.0 1124.4L559.4 1123.4L561.8 1122.1L564.2 1119.4L566.6 1115.2L569.0 1110.4L571.4 1104.8L573.8 1096.2L576.2 1087.2L578.6 1074.5L581.0 1063.3L583.4 1056.3L585.8 1047.8L588.2 1037.1L590.6 1023.9L593.0 1006.5L595.4 988.4L597.8 975.0L600.2 965.5L602.6 956.5L605.0 949.5L607.4 951.6L609.8 966.8L612.2 982.7L614.6 997.5L617.0 1012.2L619.4 1027.0L621.8 1038.4L624.2 1047.8L626.6 1052.5L629.0 1056.6L631.4 1054.1L633.8 1047.2L636.2 1041.7L638.6 1036.4L641.0 1031.7L643.4 1026.4L645.8 1025.1L648.2 1033.7L650.6 1042.2L653.0 1056.5L655.4 1071.7L657.8 1080.6L660.2 1087.6L662.6 1094.9L665.0 1100.1L667.4 1105.4L669.8 1111.5L672.2 1117.3L674.6 1121.9L677.0 1125.6L679.4 1129.4L681.8 1131.8L684.2 1128.2L686.6 1119.3L689.0 1110.9L691.4 1103.8L693.8 1099.6L696.2 1095.6L698.6 1092.0L701.0 1089.9L703.4 1089.2L705.8 1091.9L708.2 1095.4L710.6 1099.7L713.0 1106.7L715.4 1114.7L717.8 1123.3L720.2 1131.3L722.6 1135.6L725.0 1140.1L727.4 1144.6L729.8 1148.2L732.2 1151.5L734.6 1155.1L737.0 1157.4L739.4 1158.1L741.8 1158.2L744.2 1157.7L746.6 1156.4L749.0 1154.7L751.4 1153.4L753.8 1152.8L756.2 1152.9L758.6 1153.6L761.0 1154.6L763.4 1155.7L765.8 1156.9L768.2 1158.1L770.6 1159.1L773.0 1159.7L775.4 1159.6L777.8 1158.8L780.2 1158.0L782.6 1157.8L785.0 1158.1L787.4 1158.5L789.8 1158.7L792.2 1158.7L794.6 1158.6L797.0 1158.8L799.4 1159.3L801.8 1159.8L804.2 1160.2L806.6 1160.3L809.0 1160.0L811.4 1159.4L813.8 1159.1L816.2 1159.0L818.6 1159.1L821.0 1159.2L823.4 1159.5L825.8 1160.0L828.2 1160.5L830.6 1160.5L833.0 1160.1L835.4 1159.5L837.8 1158.8L840.2 1158.1L842.6 1157.4L845.0 1157.1L847.4 1157.3L849.8 1157.7L852.2 1158.3L854.6 1158.5L857.0 1158.3L859.4 1157.6L861.8 1156.7L864.2 1155.7L866.6 1155.0L869.0 1154.8L871.4 1155.1L873.8 1155.5L876.2 1156.0L878.6 1156.0L881.0 1155.5L883.4 1155.0L885.8 1154.8L888.2 1155.1L890.6 1155.7L893.0 1156.2L895.4 1156.7L897.8 1157.4L900.2 1157.8L902.6 1157.6L905.0 1156.9L907.4 1155.9L909.8 1155.4L912.2 1155.3L914.6 1155.7L917.0 1155.5L919.4 1155.0L921.8 1154.1L924.2 1153.2L926.6 1152.5L929.0 1152.4L931.4 1153.5L933.8 1154.2L936.2 1153.8L938.6 1152.6L941.0 1150.8L943.4 1149.1L945.8 1147.6L948.2 1146.6L950.6 1145.8L953.0 1145.4L955.4 1145.0L957.8 1144.4L960.2 1143.1L962.6 1141.4L965.0 1139.7L967.4 1137.7L969.8 1135.4L972.2 1133.0L974.6 1130.5L977.0 1127.9L979.4 1125.3L981.8 1122.5L984.2 1119.5L986.6 1116.8L989.0 1115.3L991.4 1113.7L993.8 1112.0L996.2 1112.4L998.6 1112.8L1001.0 1112.3L1003.4 1109.3L1005.8 1106.3L1008.2 1103.9L1010.6 1101.4L1013.0 1098.6L1015.4 1095.0L1017.8 1090.0L1020.2 1082.9L1022.6 1075.8L1025.0 1069.2L1027.4 1064.1L1029.8 1059.7L1032.2 1055.6L1034.6 1053.3L1037.0 1050.2L1039.4 1047.3L1041.8 1044.3L1044.2 1040.9L1046.6 1037.1L1049.0 1033.9L1051.4 1031.0L1053.8 1029.2L1056.2 1028.9L1058.6 1027.4L1061.0 1025.1L1063.4 1022.8L1065.8 1013.3L1068.2 997.4L1070.6 977.9L1073.0 957.2L1075.4 907.8L1077.8 873.7L1080.2 844.6L1082.6 810.0L1085.0 772.6L1087.4 728.3L1089.8 680.9L1092.2 673.2L1094.6 671.2L1097.0 674.0L1099.4 710.7L1101.8 767.5L1104.2 806.2L1106.6 843.4L1109.0 880.1L1111.4 917.0L1113.8 954.2L1116.2 1010.3L1118.6 1030.4L1121.0 1042.5L1123.4 1053.5L1125.8 1063.9L1128.2 1076.2L1130.6 1084.7L1133.0 1091.2L1135.4 1097.6L1137.8 1102.3L1140.2 1106.7L1142.6 1110.9L1145.0 1113.0L1147.4 1114.5L1149.8 1116.1L1152.2 1116.4L1154.6 1117.1L1157.0 1118.3L1159.4 1119.4L1161.8 1119.9L1164.2 1120.1L1166.6 1119.3L1169.0 1118.3L1171.4 1117.8L1173.8 1117.7L1176.2 1117.8L1178.6 1117.8L1181.0 1117.0L1183.4 1116.1L1185.8 1115.9L1188.2 1116.8L1190.6 1117.6L1193.0 1117.5L1195.4 1116.7L1197.8 1115.2L1200.2 1113.8L1202.6 1112.9L1205.0 1112.8L1207.4 1113.0L1209.8 1113.9L1212.2 1114.0L1214.6 1113.5L1217.0 1112.2L1219.4 1110.6L1221.8 1108.8L1224.2 1106.7L1226.6 1104.4L1229.0 1102.8L1231.4 1102.7L1233.8 1102.5L1236.2 1101.5L1238.6 1099.5L1241.0 1095.4L1243.4 1090.9L1245.8 1086.3L1248.2 1081.5L1250.6 1074.6L1253.0 1068.0L1255.4 1061.5L1257.8 1053.5L1260.2 1044.7L1262.6 1036.1L1265.0 1028.6L1267.4 1021.3L1269.8 1014.1L1272.2 1006.9L1274.6 999.7L1277.0 992.0L1279.4 985.7L1281.8 978.9L1284.2 988.8L1286.6 1000.1L1289.0 1007.2L1291.4 1012.8L1293.8 1018.9L1296.2 1025.6L1298.6 1036.1L1301.0 1046.7L1303.4 1054.9L1305.8 1061.6L1308.2 1068.3L1310.6 1074.2L1313.0 1079.1L1315.4 1083.6L1317.8 1087.7L1320.2 1092.1L1322.6 1097.5L1325.0 1103.0L1327.4 1108.2L1329.8 1113.6L1332.2 1118.7L1334.6 1123.2L1337.0 1127.0L1339.4 1130.1L1341.8 1132.4L1344.2 1134.8L1346.6 1137.8L1349.0 1141.2L1351.4 1144.1L1353.8 1146.9L1356.2 1149.1L1358.6 1150.8L1361.0 1151.7L1363.4 1151.8L1365.8 1151.6L1368.2 1152.5L1370.6 1153.9L1373.0 1155.5L1375.4 1157.0L1377.8 1158.4L1380.2 1159.6L1382.6 1160.7L1385.0 1161.8L1387.4 1162.8L1389.8 1163.4L1392.2 1163.9L1394.6 1164.5L1397.0 1165.4L1399.4 1166.6L1401.8 1167.6L1404.2 1167.8L1406.6 1167.6L1409.0 1167.0L1411.4 1166.8L1413.8 1166.8L1416.2 1167.2L1418.6 1167.9L1421.0 1168.7L1423.4 1169.0L1425.8 1168.8L1428.2 1168.1L1430.6 1167.6L1433.0 1167.7L1435.4 1168.1L1437.8 1168.4L1440.2 1168.3L1442.6 1168.2L1445.0 1168.5L1447.4 1168.9L1449.8 1169.2L1452.2 1169.2L1454.6 1169.2L1457.0 1169.4L1459.4 1170.0L1461.8 1171.0L1464.2 1171.5L1466.6 1172.1L1469.0 1172.8L1471.4 1173.5L1473.8 1174.0L1476.2 1174.1L1478.6 1173.8L1481.0 1173.3L1483.4 1173.0L1485.8 1172.6L1488.2 1172.5L1490.6 1172.5L1493.0 1172.7L1495.4 1173.1L1497.8 1173.1L1500.2 1172.7L1502.6 1172.3L1505.0 1172.5L1507.4 1172.7L1509.8 1172.9L1512.2 1173.9L1514.6 1175.5L1517.0 1177.2L1519.4 1178.6L1521.8 1179.2L1524.2 1178.9L1526.6 1177.7L1529.0 1177.2L1531.4 1177.6L1533.8 1178.1L1536.2 1178.7L1538.6 1179.9L1541.0 1181.5L1543.4 1183.1L1545.8 1184.4L1548.2 1185.4L1550.6 1186.0L1553.0 1186.5L1555.4 1187.1L1557.8 1188.3L1560.2 1188.8L1562.6 1188.3L1565.0 1187.2L1567.4 1185.8L1569.8 1184.6L1572.2 1184.0L1574.6 1184.0L1577.0 1184.4L1579.4 1185.4L1581.8 1186.1L1584.2 1186.5L1586.6 1186.4L1589.0 1186.1L1591.4 1186.2L1593.8 1186.6L1596.2 1187.1L1598.6 1187.3L1601.0 1187.2L1603.4 1186.7L1605.8 1186.8L1608.2 1187.5L1610.6 1187.9L1613.0 1187.7L1615.4 1186.8L1617.8 1185.7L1620.2 1185.1L1622.6 1185.2L1625.0 1186.0L1627.4 1197.2L1629.8 1198.1L1632.2 1199.0L1634.6 1199.8L1637.0 1200.3L1637.0 1200.5L1634.6 1199.9L1632.2 1199.1L1629.8 1198.3L1627.4 1197.4L1625.0 1206.6L1622.6 1205.8L1620.2 1205.8L1617.8 1206.6L1615.4 1207.7L1613.0 1208.6L1610.6 1208.8L1608.2 1208.4L1605.8 1208.4L1603.4 1208.6L1601.0 1208.9L1598.6 1209.1L1596.2 1208.9L1593.8 1208.4L1591.4 1208.0L1589.0 1207.6L1586.6 1207.4L1584.2 1207.3L1581.8 1207.0L1579.4 1206.3L1577.0 1205.2L1574.6 1203.9L1572.2 1203.7L1569.8 1204.3L1567.4 1205.5L1565.0 1206.9L1562.6 1208.1L1560.2 1208.5L1557.8 1208.2L1555.4 1207.6L1553.0 1206.3L1550.6 1205.0L1548.2 1204.1L1545.8 1203.1L1543.4 1201.8L1541.0 1200.2L1538.6 1198.6L1536.2 1197.4L1533.8 1196.8L1531.4 1197.0L1529.0 1197.8L1526.6 1198.2L1524.2 1198.0L1521.8 1197.9L1519.4 1197.3L1517.0 1196.0L1514.6 1194.2L1512.2 1192.6L1509.8 1191.7L1507.4 1191.4L1505.0 1192.2L1502.6 1193.6L1500.2 1194.2L1497.8 1194.7L1495.4 1194.6L1493.0 1194.4L1490.6 1194.3L1488.2 1194.3L1485.8 1194.4L1483.4 1194.8L1481.0 1195.1L1478.6 1195.3L1476.2 1195.4L1473.8 1195.2L1471.4 1194.7L1469.0 1193.9L1466.6 1193.2L1464.2 1192.6L1461.8 1192.1L1459.4 1191.1L1457.0 1190.5L1454.6 1190.3L1452.2 1190.5L1449.8 1190.8L1447.4 1190.8L1445.0 1190.4L1442.6 1190.1L1440.2 1190.1L1437.8 1190.3L1435.4 1189.9L1433.0 1189.5L1430.6 1189.4L1428.2 1189.7L1425.8 1190.2L1423.4 1190.4L1421.0 1190.1L1418.6 1189.3L1416.2 1188.6L1413.8 1188.2L1411.4 1188.2L1409.0 1188.3L1406.6 1188.3L1404.2 1188.2L1401.8 1187.9L1399.4 1186.9L1397.0 1185.8L1394.6 1184.8L1392.2 1183.9L1389.8 1183.1L1387.4 1182.2L1385.0 1181.1L1382.6 1179.7L1380.2 1178.3L1377.8 1177.0L1375.4 1175.7L1373.0 1174.2L1370.6 1172.6L1368.2 1171.1L1365.8 1169.8L1363.4 1168.0L1361.0 1166.8L1358.6 1165.0L1356.2 1162.4L1353.8 1159.9L1351.4 1157.2L1349.0 1154.3L1346.6 1150.8L1344.2 1146.9L1341.8 1143.2L1339.4 1140.1L1337.0 1136.3L1334.6 1132.3L1332.2 1127.7L1329.8 1122.6L1327.4 1117.2L1325.0 1111.9L1322.6 1106.4L1320.2 1101.1L1317.8 1096.1L1315.4 1091.4L1313.0 1086.4L1310.6 1080.5L1308.2 1073.9L1305.8 1067.1L1303.4 1060.4L1301.0 1052.1L1298.6 1041.5L1296.2 1031.0L1293.8 1024.3L1291.4 1018.2L1289.0 1013.1L1286.6 1006.0L1284.2 994.7L1281.8 984.8L1279.4 991.6L1277.0 999.0L1274.6 1006.7L1272.2 1013.6L1269.8 1020.3L1267.4 1027.3L1265.0 1034.6L1262.6 1042.2L1260.2 1050.8L1257.8 1059.6L1255.4 1067.6L1253.0 1074.1L1250.6 1080.9L1248.2 1088.3L1245.8 1093.4L1243.4 1098.6L1241.0 1103.6L1238.6 1108.5L1236.2 1111.4L1233.8 1113.3L1231.4 1115.6L1229.0 1118.6L1226.6 1121.0L1224.2 1123.3L1221.8 1125.4L1219.4 1127.2L1217.0 1128.9L1214.6 1130.5L1212.2 1131.9L1209.8 1132.6L1207.4 1132.9L1205.0 1132.4L1202.6 1132.6L1200.2 1133.4L1197.8 1134.8L1195.4 1136.3L1193.0 1137.2L1190.6 1137.2L1188.2 1137.1L1185.8 1137.3L1183.4 1137.6L1181.0 1138.4L1178.6 1139.2L1176.2 1139.2L1173.8 1139.2L1171.4 1139.5L1169.0 1139.6L1166.6 1139.3L1164.2 1139.1L1161.8 1138.4L1159.4 1137.1L1157.0 1135.4L1154.6 1133.4L1152.2 1130.8L1149.8 1128.3L1147.4 1125.0L1145.0 1122.0L1142.6 1119.2L1140.2 1114.3L1137.8 1108.2L1135.4 1102.8L1133.0 1095.8L1130.6 1089.1L1128.2 1080.2L1125.8 1066.2L1123.4 1055.1L1121.0 1043.8L1118.6 1031.6L1116.2 1011.6L1113.8 955.5L1111.4 918.3L1109.0 881.3L1106.6 844.6L1104.2 807.3L1101.8 768.7L1099.4 711.8L1097.0 675.2L1094.6 672.4L1092.2 674.4L1089.8 682.1L1087.4 729.5L1085.0 773.9L1082.6 811.2L1080.2 845.8L1077.8 875.0L1075.4 909.3L1073.0 958.7L1070.6 979.4L1068.2 999.0L1065.8 1015.0L1063.4 1024.8L1061.0 1028.2L1058.6 1031.7L1056.2 1035.7L1053.8 1040.3L1051.4 1043.7L1049.0 1046.6L1046.6 1049.8L1044.2 1053.5L1041.8 1057.0L1039.4 1060.0L1037.0 1062.1L1034.6 1063.0L1032.2 1064.0L1029.8 1067.3L1027.4 1071.5L1025.0 1076.6L1022.6 1083.2L1020.2 1090.2L1017.8 1097.4L1015.4 1102.4L1013.0 1106.1L1010.6 1109.8L1008.2 1113.9L1005.8 1118.3L1003.4 1122.0L1001.0 1125.1L998.6 1125.7L996.2 1127.1L993.8 1128.6L991.4 1128.7L989.0 1129.5L986.6 1131.1L984.2 1133.7L981.8 1136.7L979.4 1139.6L977.0 1142.2L974.6 1144.8L972.2 1147.4L969.8 1150.2L967.4 1152.7L965.0 1154.8L962.6 1156.9L960.2 1159.2L957.8 1161.1L955.4 1162.2L953.0 1163.6L950.6 1164.5L948.2 1165.0L945.8 1166.0L943.4 1167.5L941.0 1169.2L938.6 1170.9L936.2 1172.1L933.8 1172.5L931.4 1172.8L929.0 1173.3L926.6 1173.4L924.2 1174.1L921.8 1175.1L919.4 1175.9L917.0 1176.4L914.6 1176.6L912.2 1176.5L909.8 1176.5L907.4 1177.1L905.0 1178.0L902.6 1178.8L900.2 1179.0L897.8 1178.6L895.4 1178.2L893.0 1177.6L890.6 1177.1L888.2 1176.6L885.8 1176.3L883.4 1176.6L881.0 1177.2L878.6 1177.6L876.2 1177.6L873.8 1177.1L871.4 1176.1L869.0 1175.6L866.6 1175.7L864.2 1176.5L861.8 1177.4L859.4 1178.3L857.0 1179.0L854.6 1179.3L852.2 1179.4L849.8 1179.3L847.4 1178.6L845.0 1178.3L842.6 1178.6L840.2 1179.2L837.8 1180.0L835.4 1180.6L833.0 1181.2L830.6 1181.7L828.2 1181.8L825.8 1181.6L823.4 1181.3L821.0 1181.0L818.6 1180.8L816.2 1180.7L813.8 1180.8L811.4 1181.2L809.0 1181.7L806.6 1182.0L804.2 1181.9L801.8 1181.4L799.4 1180.9L797.0 1180.5L794.6 1180.3L792.2 1180.4L789.8 1180.6L787.4 1180.4L785.0 1180.0L782.6 1179.7L780.2 1179.8L777.8 1179.8L775.4 1179.8L773.0 1179.5L770.6 1178.9L768.2 1177.9L765.8 1176.7L763.4 1175.5L761.0 1174.4L758.6 1173.4L756.2 1172.8L753.8 1173.0L751.4 1174.0L749.0 1175.3L746.6 1175.6L744.2 1174.2L741.8 1172.3L739.4 1170.1L737.0 1168.4L734.6 1165.5L732.2 1161.6L729.8 1157.2L727.4 1152.4L725.0 1146.8L722.6 1142.0L720.2 1137.6L717.8 1129.6L715.4 1121.1L713.0 1113.0L710.6 1106.0L708.2 1101.7L705.8 1098.9L703.4 1097.9L701.0 1100.4L698.6 1100.4L696.2 1102.5L693.8 1105.9L691.4 1110.2L689.0 1117.3L686.6 1125.7L684.2 1134.6L681.8 1138.2L679.4 1136.0L677.0 1134.0L674.6 1130.0L672.2 1125.1L669.8 1119.1L667.4 1112.4L665.0 1105.6L662.6 1099.4L660.2 1091.8L657.8 1084.8L655.4 1075.9L653.0 1060.7L650.6 1046.4L648.2 1037.9L645.8 1029.3L643.4 1030.9L641.0 1038.0L638.6 1044.9L636.2 1050.1L633.8 1055.7L631.4 1060.8L629.0 1061.7L626.6 1056.6L624.2 1051.5L621.8 1041.8L619.4 1030.4L617.0 1015.6L614.6 1000.9L612.2 986.1L609.8 970.2L607.4 955.0L605.0 952.9L602.6 960.0L600.2 968.8L597.8 978.2L595.4 991.6L593.0 1009.7L590.6 1027.1L588.2 1040.3L585.8 1051.1L583.4 1059.7L581.0 1067.5L578.6 1079.3L576.2 1092.0L573.8 1101.0L571.4 1109.6L569.0 1115.2L566.6 1121.0L564.2 1126.4L561.8 1130.4L559.4 1133.1L557.0 1136.0L554.6 1138.7L552.2 1141.5L549.8 1143.3L547.4 1144.7L545.0 1146.0L542.6 1147.2L540.2 1148.7L537.8 1150.2L535.4 1151.6L533.0 1152.7L530.6 1152.7L528.2 1153.1L525.8 1153.7L523.4 1153.4L521.0 1153.2L518.6 1152.6L516.2 1151.6L513.8 1150.4L511.4 1148.6L509.0 1147.1L506.6 1145.2L504.2 1143.2L501.8 1141.4L499.4 1139.4L497.0 1137.3L494.6 1135.0L492.2 1132.8L489.8 1131.2L487.4 1130.2L485.0 1129.3L482.6 1128.0L480.2 1126.6L477.8 1124.6L475.4 1122.2L473.0 1119.6L470.6 1117.3L468.2 1115.0L465.8 1112.8L463.4 1109.9L461.0 1104.8L458.6 1101.9L456.2 1099.9L453.8 1098.0L451.4 1091.6L449.0 1082.7L446.6 1075.1L444.2 1068.6L441.8 1072.3L439.4 1077.9L437.0 1083.0L434.6 1088.0L432.2 1091.6L429.8 1094.4L427.4 1096.9L425.0 1099.7L422.6 1103.0L420.2 1104.6L417.8 1105.7L415.4 1106.8L413.0 1107.7L410.6 1108.0L408.2 1107.6L405.8 1107.3L403.4 1107.3L401.0 1107.7L398.6 1108.8L396.2 1110.3L393.8 1112.3L391.4 1114.3L389.0 1116.0L386.6 1108.5L384.2 1109.3L381.8 1110.0L379.4 1111.0L377.0 1112.4Z" fill="#000"/><path d="M377.0 1112.4L378.2 1111.6L379.4 1110.9L380.6 1110.4L381.8 1109.9L383.0 1121.5L384.2 1118.0L385.4 1108.6L386.6 1103.8L387.8 1104.4L389.0 1109.6L390.2 1085.3L391.4 1107.7L392.6 1102.8L393.8 1119.6L395.0 1105.8L396.2 1100.2L397.4 1101.1L398.6 1095.3L399.8 1100.4L401.0 1098.5L402.2 1083.3L403.4 1098.3L404.6 1085.1L405.8 1092.2L407.0 1091.9L408.2 1102.7L409.4 1109.3L410.6 1102.3L411.8 1093.8L413.0 1095.8L414.2 1097.8L415.4 1098.7L416.6 1106.0L417.8 1096.3L419.0 1102.7L420.2 1111.3L421.4 1096.5L422.6 1109.5L423.8 1094.0L425.0 1097.7L426.2 1094.9L427.4 1092.8L428.6 1082.9L429.8 1091.3L431.0 1077.7L432.2 1089.5L433.4 1097.4L434.6 1091.1L435.8 1082.7L437.0 1076.2L438.2 1080.7L439.4 1066.6L440.6 1062.9L441.8 1059.5L443.0 1069.9L444.2 1055.4L445.4 1073.1L446.6 1078.8L447.8 1079.2L449.0 1079.0L450.2 1081.5L451.4 1081.9L452.6 1093.8L453.8 1104.6L455.0 1104.9L456.2 1081.6L457.4 1097.0L458.6 1095.9L459.8 1105.3L461.0 1101.8L462.2 1100.3L463.4 1097.8L464.6 1105.2L465.8 1104.2L467.0 1106.8L468.2 1106.4L469.4 1099.4L470.6 1112.9L471.8 1114.4L473.0 1113.8L474.2 1115.3L475.4 1131.2L476.6 1123.9L477.8 1129.4L479.0 1123.2L480.2 1125.3L481.4 1120.1L482.6 1112.4L483.8 1111.8L485.0 1125.0L486.2 1122.5L487.4 1126.1L488.6 1105.5L489.8 1121.4L491.0 1124.5L492.2 1121.8L493.4 1115.3L494.6 1113.3L495.8 1127.0L497.0 1138.3L498.2 1121.4L499.4 1135.1L500.6 1126.5L501.8 1134.3L503.0 1151.5L504.2 1135.1L505.4 1138.4L506.6 1141.4L507.8 1137.3L509.0 1147.8L510.2 1123.4L511.4 1137.1L512.6 1125.5L513.8 1129.2L515.0 1141.5L516.2 1132.8L517.4 1139.3L518.6 1153.2L519.8 1147.2L521.0 1172.1L522.2 1142.2L523.4 1143.4L524.6 1123.7L525.8 1142.6L527.0 1139.2L528.2 1146.5L529.4 1143.2L530.6 1137.9L531.8 1127.9L533.0 1148.9L534.2 1137.0L535.4 1128.5L536.6 1144.1L537.8 1125.0L539.0 1129.8L540.2 1122.9L541.4 1135.7L542.6 1124.2L543.8 1158.9L545.0 1144.6L546.2 1139.0L547.4 1137.5L548.6 1139.3L549.8 1140.3L551.0 1135.3L552.2 1124.2L553.4 1133.2L554.6 1119.2L555.8 1127.6L557.0 1132.7L558.2 1120.5L559.4 1131.0L560.6 1123.1L561.8 1142.8L563.0 1122.0L564.2 1125.8L565.4 1124.2L566.6 1118.5L567.8 1117.1L569.0 1110.8L570.2 1110.4L571.4 1107.8L572.6 1107.1L573.8 1103.9L575.0 1093.8L576.2 1094.7L577.4 1084.1L578.6 1073.5L579.8 1068.2L581.0 1063.1L582.2 1060.9L583.4 1058.2L584.6 1055.0L585.8 1053.4L587.0 1046.4L588.2 1037.5L589.4 1034.0L590.6 1023.0L591.8 1020.1L593.0 1010.9L594.2 997.5L595.4 991.9L596.6 985.9L597.8 977.7L599.0 968.3L600.2 967.0L601.4 961.4L602.6 960.1L603.8 954.3L605.0 951.9L606.2 953.4L607.4 954.6L608.6 959.8L609.8 966.8L611.0 976.8L612.2 982.8L613.4 991.6L614.6 996.5L615.8 1009.4L617.0 1017.1L618.2 1020.3L619.4 1024.3L620.6 1035.4L621.8 1039.2L623.0 1049.4L624.2 1049.4L625.4 1047.9L626.6 1045.3L627.8 1056.9L629.0 1041.0L630.2 1051.9L631.4 1062.8L632.6 1053.3L633.8 1051.1L635.0 1047.2L636.2 1038.3L637.4 1041.2L638.6 1043.1L639.8 1040.6L641.0 1028.2L642.2 1032.3L643.4 1035.7L644.6 1027.3L645.8 1038.2L647.0 1031.5L648.2 1027.7L649.4 1040.0L650.6 1044.8L651.8 1052.9L653.0 1060.1L654.2 1070.9L655.4 1075.6L656.6 1079.9L657.8 1080.8L659.0 1085.2L660.2 1095.7L661.4 1103.0L662.6 1093.7L663.8 1101.3L665.0 1101.8L666.2 1107.2L667.4 1109.3L668.6 1109.0L669.8 1121.1L671.0 1111.5L672.2 1122.2L673.4 1124.8L674.6 1130.3L675.8 1127.0L677.0 1123.4L678.2 1130.7L679.4 1125.1L680.6 1131.2L681.8 1129.1L683.0 1154.2L684.2 1116.0L685.4 1119.0L686.6 1129.9L687.8 1113.6L689.0 1106.8L690.2 1113.7L691.4 1118.9L692.6 1105.0L693.8 1108.1L695.0 1092.3L696.2 1095.2L697.4 1098.7L698.6 1097.5L699.8 1090.8L701.0 1090.7L702.2 1089.6L703.4 1087.4L704.6 1089.6L705.8 1091.1L707.0 1100.2L708.2 1089.0L709.4 1103.3L710.6 1113.1L711.8 1107.2L713.0 1107.4L714.2 1108.9L715.4 1115.4L716.6 1116.4L717.8 1127.7L719.0 1130.1L720.2 1138.4L721.4 1138.1L722.6 1143.4L723.8 1150.2L725.0 1149.6L726.2 1163.9L727.4 1156.2L728.6 1148.0L729.8 1157.1L731.0 1160.2L732.2 1150.5L733.4 1164.3L734.6 1165.0L735.8 1172.5L737.0 1162.6L738.2 1157.0L739.4 1161.4L740.6 1150.5L741.8 1145.2L743.0 1149.2L744.2 1162.2L745.4 1161.0L746.6 1175.4L747.8 1157.3L749.0 1155.7L750.2 1179.9L751.4 1159.8L752.6 1169.4L753.8 1162.3L755.0 1143.1L756.2 1170.7L757.4 1156.6L758.6 1172.5L759.8 1165.9L761.0 1167.4L762.2 1172.3L763.4 1182.8L764.6 1168.6L765.8 1165.6L767.0 1174.8L768.2 1171.9L769.4 1149.1L770.6 1172.8L771.8 1166.6L773.0 1168.0L774.2 1158.7L775.4 1184.8L776.6 1173.7L777.8 1166.1L779.0 1166.0L780.2 1167.7L781.4 1168.2L782.6 1175.1L783.8 1172.1L785.0 1165.3L786.2 1167.6L787.4 1174.4L788.6 1162.2L789.8 1166.6L791.0 1177.3L792.2 1169.8L793.4 1180.9L794.6 1160.8L795.8 1166.3L797.0 1163.7L798.2 1163.5L799.4 1176.4L800.6 1179.0L801.8 1171.8L803.0 1170.5L804.2 1185.5L805.4 1184.3L806.6 1155.6L807.8 1171.0L809.0 1155.6L810.2 1159.1L811.4 1165.8L812.6 1161.7L813.8 1175.2L815.0 1167.2L816.2 1168.6L817.4 1169.8L818.6 1184.1L819.8 1173.0L821.0 1177.9L822.2 1175.0L823.4 1180.5L824.6 1171.6L825.8 1171.0L827.0 1181.6L828.2 1173.1L829.4 1159.4L830.6 1161.9L831.8 1168.1L833.0 1175.1L834.2 1165.0L835.4 1182.3L836.6 1173.6L837.8 1167.9L839.0 1160.1L840.2 1174.7L841.4 1173.7L842.6 1159.6L843.8 1178.7L845.0 1177.8L846.2 1179.8L847.4 1168.3L848.6 1176.0L849.8 1153.0L851.0 1172.4L852.2 1166.1L853.4 1168.6L854.6 1172.8L855.8 1163.7L857.0 1167.5L858.2 1161.0L859.4 1162.1L860.6 1159.1L861.8 1170.0L863.0 1172.2L864.2 1158.8L865.4 1153.5L866.6 1163.9L867.8 1168.5L869.0 1167.3L870.2 1156.4L871.4 1165.7L872.6 1159.5L873.8 1163.1L875.0 1160.5L876.2 1163.5L877.4 1170.5L878.6 1162.9L879.8 1178.4L881.0 1167.3L882.2 1157.3L883.4 1173.4L884.6 1172.3L885.8 1167.6L887.0 1165.7L888.2 1168.5L889.4 1172.8L890.6 1165.4L891.8 1173.1L893.0 1162.5L894.2 1171.1L895.4 1159.8L896.6 1170.5L897.8 1172.5L899.0 1164.1L900.2 1171.2L901.4 1159.2L902.6 1167.5L903.8 1165.9L905.0 1172.3L906.2 1166.7L907.4 1174.4L908.6 1180.9L909.8 1166.8L911.0 1172.7L912.2 1178.9L913.4 1173.5L914.6 1174.8L915.8 1164.7L917.0 1169.2L918.2 1158.3L919.4 1172.4L920.6 1168.7L921.8 1168.3L923.0 1150.3L924.2 1171.9L925.4 1175.4L926.6 1174.2L927.8 1166.9L929.0 1173.6L930.2 1163.9L931.4 1158.8L932.6 1163.6L933.8 1158.5L935.0 1177.3L936.2 1140.5L937.4 1164.9L938.6 1155.8L939.8 1157.3L941.0 1166.0L942.2 1159.1L943.4 1167.1L944.6 1156.9L945.8 1156.3L947.0 1162.4L948.2 1165.7L949.4 1150.7L950.6 1153.1L951.8 1151.0L953.0 1151.3L954.2 1145.0L955.4 1151.5L956.6 1156.6L957.8 1163.4L959.0 1156.0L960.2 1147.1L961.4 1160.7L962.6 1136.8L963.8 1151.8L965.0 1138.8L966.2 1145.5L967.4 1135.8L968.6 1133.3L969.8 1139.0L971.0 1154.2L972.2 1142.8L973.4 1145.4L974.6 1135.4L975.8 1136.6L977.0 1129.7L978.2 1129.7L979.4 1130.2L980.6 1138.0L981.8 1132.1L983.0 1122.9L984.2 1125.5L985.4 1118.9L986.6 1135.2L987.8 1125.3L989.0 1124.5L990.2 1132.7L991.4 1125.6L992.6 1131.8L993.8 1115.0L995.0 1125.8L996.2 1118.7L997.4 1126.6L998.6 1115.9L999.8 1107.4L1001.0 1116.0L1002.2 1113.1L1003.4 1108.4L1004.6 1111.8L1005.8 1120.4L1007.0 1108.7L1008.2 1113.8L1009.4 1116.8L1010.6 1112.9L1011.8 1107.5L1013.0 1108.7L1014.2 1098.2L1015.4 1090.9L1016.6 1087.7L1017.8 1099.6L1019.0 1098.4L1020.2 1085.1L1021.4 1083.4L1022.6 1066.8L1023.8 1080.4L1025.0 1072.5L1026.2 1059.9L1027.4 1071.0L1028.6 1069.5L1029.8 1068.9L1031.0 1061.1L1032.2 1061.8L1033.4 1053.6L1034.6 1067.9L1035.8 1055.3L1037.0 1065.2L1038.2 1059.1L1039.4 1052.5L1040.6 1061.7L1041.8 1046.6L1043.0 1052.0L1044.2 1048.7L1045.4 1045.0L1046.6 1045.3L1047.8 1047.3L1049.0 1038.2L1050.2 1035.8L1051.4 1036.5L1052.6 1032.6L1053.8 1028.2L1055.0 1036.0L1056.2 1020.4L1057.4 1030.8L1058.6 1026.5L1059.8 1029.3L1061.0 1029.5L1062.2 1026.6L1063.4 1023.8L1064.6 1022.0L1065.8 1013.7L1067.0 1006.9L1068.2 998.1L1069.4 988.9L1070.6 979.1L1071.8 968.8L1073.0 958.0L1074.2 933.5L1075.4 908.8L1076.6 888.8L1077.8 874.6L1079.0 859.7L1080.2 845.2L1081.4 829.2L1082.6 810.7L1083.8 791.7L1085.0 773.1L1086.2 753.4L1087.4 728.8L1088.6 696.4L1089.8 681.4L1091.0 674.5L1092.2 673.7L1093.4 668.9L1094.6 672.3L1095.8 673.0L1097.0 674.7L1098.2 681.0L1099.4 711.2L1100.6 742.1L1101.8 767.9L1103.0 787.8L1104.2 806.7L1105.4 825.6L1106.6 844.0L1107.8 862.6L1109.0 880.8L1110.2 898.9L1111.4 917.5L1112.6 936.1L1113.8 954.6L1115.0 983.5L1116.2 1011.3L1117.4 1022.3L1118.6 1031.3L1119.8 1036.9L1121.0 1042.0L1122.2 1049.6L1123.4 1051.5L1124.6 1059.9L1125.8 1066.8L1127.0 1065.4L1128.2 1083.4L1129.4 1077.6L1130.6 1087.3L1131.8 1088.2L1133.0 1097.9L1134.2 1092.6L1135.4 1096.4L1136.6 1129.6L1137.8 1120.8L1139.0 1116.4L1140.2 1104.1L1141.4 1117.1L1142.6 1098.8L1143.8 1108.6L1145.0 1122.5L1146.2 1127.6L1147.4 1116.4L1148.6 1129.5L1149.8 1132.0L1151.0 1112.4L1152.2 1135.9L1153.4 1124.3L1154.6 1141.9L1155.8 1112.3L1157.0 1132.4L1158.2 1126.2L1159.4 1151.8L1160.6 1102.9L1161.8 1149.0L1163.0 1127.6L1164.2 1136.1L1165.4 1112.6L1166.6 1114.6L1167.8 1126.5L1169.0 1130.0L1170.2 1100.8L1171.4 1121.2L1172.6 1123.4L1173.8 1126.7L1175.0 1136.3L1176.2 1132.1L1177.4 1125.5L1178.6 1114.4L1179.8 1109.6L1181.0 1128.8L1182.2 1144.1L1183.4 1127.0L1184.6 1137.4L1185.8 1113.6L1187.0 1137.4L1188.2 1124.7L1189.4 1128.5L1190.6 1135.2L1191.8 1136.4L1193.0 1130.6L1194.2 1131.7L1195.4 1130.4L1196.6 1117.8L1197.8 1129.7L1199.0 1124.6L1200.2 1142.6L1201.4 1109.7L1202.6 1124.1L1203.8 1134.2L1205.0 1130.7L1206.2 1112.4L1207.4 1108.8L1208.6 1117.3L1209.8 1126.9L1211.0 1132.6L1212.2 1120.7L1213.4 1133.4L1214.6 1117.7L1215.8 1112.1L1217.0 1134.5L1218.2 1139.7L1219.4 1117.4L1220.6 1108.9L1221.8 1111.8L1223.0 1099.9L1224.2 1100.2L1225.4 1115.6L1226.6 1133.1L1227.8 1107.5L1229.0 1111.5L1230.2 1127.2L1231.4 1096.3L1232.6 1091.5L1233.8 1131.8L1235.0 1106.6L1236.2 1102.4L1237.4 1111.2L1238.6 1113.7L1239.8 1099.3L1241.0 1125.2L1242.2 1081.0L1243.4 1110.5L1244.6 1096.1L1245.8 1091.7L1247.0 1090.0L1248.2 1079.5L1249.4 1079.8L1250.6 1075.2L1251.8 1067.0L1253.0 1074.1L1254.2 1061.5L1255.4 1060.1L1256.6 1069.8L1257.8 1058.6L1259.0 1059.1L1260.2 1053.7L1261.4 1044.3L1262.6 1046.2L1263.8 1032.8L1265.0 1027.5L1266.2 1025.7L1267.4 1022.6L1268.6 1023.1L1269.8 1026.8L1271.0 1009.6L1272.2 1008.9L1273.4 1006.6L1274.6 1004.5L1275.8 997.9L1277.0 997.7L1278.2 991.3L1279.4 986.6L1280.6 989.1L1281.8 985.0L1283.0 986.0L1284.2 990.1L1285.4 997.7L1286.6 1004.1L1287.8 1009.1L1289.0 1012.4L1290.2 1011.3L1291.4 1016.0L1292.6 1017.7L1293.8 1022.0L1295.0 1022.8L1296.2 1026.8L1297.4 1033.0L1298.6 1039.4L1299.8 1036.3L1301.0 1047.7L1302.2 1057.9L1303.4 1055.4L1304.6 1064.6L1305.8 1068.5L1307.0 1070.9L1308.2 1077.2L1309.4 1074.6L1310.6 1070.7L1311.8 1087.4L1313.0 1084.9L1314.2 1075.7L1315.4 1092.4L1316.6 1094.3L1317.8 1084.7L1319.0 1096.8L1320.2 1096.5L1321.4 1101.5L1322.6 1098.7L1323.8 1115.2L1325.0 1101.8L1326.2 1103.6L1327.4 1110.1L1328.6 1115.2L1329.8 1114.5L1331.0 1130.3L1332.2 1116.7L1333.4 1140.5L1334.6 1118.5L1335.8 1132.7L1337.0 1143.2L1338.2 1148.9L1339.4 1133.8L1340.6 1126.6L1341.8 1133.2L1343.0 1135.9L1344.2 1145.6L1345.4 1136.0L1346.6 1151.2L1347.8 1139.9L1349.0 1153.7L1350.2 1167.7L1351.4 1156.5L1352.6 1161.0L1353.8 1155.3L1355.0 1153.0L1356.2 1160.3L1357.4 1162.0L1358.6 1137.2L1359.8 1153.6L1361.0 1175.7L1362.2 1164.7L1363.4 1162.1L1364.6 1157.9L1365.8 1158.4L1367.0 1160.7L1368.2 1137.6L1369.4 1176.3L1370.6 1166.8L1371.8 1158.5L1373.0 1175.5L1374.2 1165.2L1375.4 1177.7L1376.6 1162.8L1377.8 1174.5L1379.0 1156.0L1380.2 1176.0L1381.4 1158.4L1382.6 1178.1L1383.8 1174.4L1385.0 1159.4L1386.2 1173.5L1387.4 1169.5L1388.6 1174.3L1389.8 1181.3L1391.0 1174.1L1392.2 1184.1L1393.4 1168.4L1394.6 1167.8L1395.8 1182.9L1397.0 1168.0L1398.2 1179.4L1399.4 1170.6L1400.6 1177.3L1401.8 1181.3L1403.0 1172.5L1404.2 1173.0L1405.4 1167.1L1406.6 1184.6L1407.8 1171.1L1409.0 1170.5L1410.2 1177.1L1411.4 1174.8L1412.6 1171.1L1413.8 1180.1L1415.0 1178.4L1416.2 1172.5L1417.4 1174.3L1418.6 1188.2L1419.8 1179.6L1421.0 1175.1L1422.2 1178.6L1423.4 1190.7L1424.6 1194.1L1425.8 1170.1L1427.0 1182.3L1428.2 1182.5L1429.4 1180.8L1430.6 1174.0L1431.8 1172.6L1433.0 1172.6L1434.2 1174.8L1435.4 1181.1L1436.6 1193.8L1437.8 1171.4L1439.0 1172.9L1440.2 1175.5L1441.4 1190.9L1442.6 1190.5L1443.8 1190.2L1445.0 1183.6L1446.2 1179.7L1447.4 1170.7L1448.6 1180.5L1449.8 1182.4L1451.0 1176.5L1452.2 1175.0L1453.4 1170.7L1454.6 1182.9L1455.8 1178.8L1457.0 1187.0L1458.2 1175.3L1459.4 1176.0L1460.6 1190.1L1461.8 1182.2L1463.0 1169.8L1464.2 1176.4L1465.4 1174.5L1466.6 1181.1L1467.8 1168.3L1469.0 1188.5L1470.2 1188.8L1471.4 1183.2L1472.6 1183.6L1473.8 1183.8L1475.0 1180.8L1476.2 1193.1L1477.4 1176.9L1478.6 1202.9L1479.8 1176.0L1481.0 1186.3L1482.2 1176.5L1483.4 1177.9L1484.6 1182.3L1485.8 1171.9L1487.0 1187.6L1488.2 1184.8L1489.4 1187.6L1490.6 1189.2L1491.8 1177.2L1493.0 1182.1L1494.2 1182.0L1495.4 1192.6L1496.6 1183.1L1497.8 1177.4L1499.0 1186.5L1500.2 1180.3L1501.4 1190.0L1502.6 1193.6L1503.8 1190.4L1505.0 1176.5L1506.2 1189.1L1507.4 1175.4L1508.6 1179.4L1509.8 1189.8L1511.0 1184.6L1512.2 1197.7L1513.4 1190.5L1514.6 1186.5L1515.8 1194.6L1517.0 1187.4L1518.2 1193.2L1519.4 1171.0L1520.6 1187.7L1521.8 1181.5L1523.0 1187.5L1524.2 1184.0L1525.4 1197.4L1526.6 1192.4L1527.8 1186.9L1529.0 1194.3L1530.2 1168.2L1531.4 1197.7L1532.6 1171.3L1533.8 1188.4L1535.0 1202.6L1536.2 1179.0L1537.4 1173.6L1538.6 1171.8L1539.8 1167.0L1541.0 1192.7L1542.2 1192.8L1543.4 1188.7L1544.6 1195.8L1545.8 1190.1L1547.0 1187.2L1548.2 1191.5L1549.4 1185.8L1550.6 1177.4L1551.8 1193.8L1553.0 1199.5L1554.2 1205.9L1555.4 1202.2L1556.6 1195.4L1557.8 1191.7L1559.0 1197.7L1560.2 1201.2L1561.4 1198.1L1562.6 1194.2L1563.8 1200.6L1565.0 1179.1L1566.2 1201.3L1567.4 1209.0L1568.6 1185.2L1569.8 1199.2L1571.0 1191.0L1572.2 1188.0L1573.4 1199.1L1574.6 1198.9L1575.8 1193.0L1577.0 1208.6L1578.2 1199.6L1579.4 1175.4L1580.6 1208.4L1581.8 1197.7L1583.0 1209.5L1584.2 1189.5L1585.4 1190.1L1586.6 1193.6L1587.8 1199.7L1589.0 1202.8L1590.2 1191.3L1591.4 1224.1L1592.6 1190.2L1593.8 1194.5L1595.0 1213.8L1596.2 1212.9L1597.4 1210.2L1598.6 1201.4L1599.8 1199.4L1601.0 1215.8L1602.2 1188.1L1603.4 1193.2L1604.6 1198.0L1605.8 1199.3L1607.0 1206.1L1608.2 1198.9L1609.4 1200.7L1610.6 1202.0L1611.8 1196.1L1613.0 1200.0L1614.2 1188.8L1615.4 1190.1L1616.6 1196.8L1617.8 1193.4L1619.0 1200.5L1620.2 1195.8L1621.4 1197.5L1622.6 1203.0L1623.8 1182.4L1625.0 1187.7L1626.2 1194.3L1627.4 1211.2L1628.6 1194.4L1629.8 1212.1L1631.0 1206.5L1632.2 1199.1L1633.4 1199.5L1634.6 1199.8L1635.8 1200.1L1637.0 1200.4" fill="none" stroke="#000" stroke-width="10" stroke-linejoin="round" stroke-linecap="round"/><path d="M290.9 1417V1408M290.9 154V163M311.1 1417V1408M311.1 154V163M331.3 1417V1408M331.3 154V163M351.5 1417V1408M351.5 154V163M371.6 1417V1408M371.6 154V163M391.8 1417V1408M391.8 154V163M412.0 1417V1396M412.0 154V175M432.2 1417V1408M432.2 154V163M452.4 1417V1408M452.4 154V163M472.5 1417V1408M472.5 154V163M492.7 1417V1408M492.7 154V163M512.9 1417V1408M512.9 154V163M533.1 1417V1408M533.1 154V163M553.3 1417V1408M553.3 154V163M573.5 1417V1408M573.5 154V163M593.6 1417V1408M593.6 154V163M613.8 1417V1396M613.8 154V175M634.0 1417V1408M634.0 154V163M654.2 1417V1408M654.2 154V163M674.4 1417V1408M674.4 154V163M694.6 1417V1408M694.6 154V163M714.7 1417V1408M714.7 154V163M734.9 1417V1408M734.9 154V163M755.1 1417V1408M755.1 154V163M775.3 1417V1408M775.3 154V163M795.5 1417V1408M795.5 154V163M815.7 1417V1396M815.7 154V175M835.8 1417V1408M835.8 154V163M856.0 1417V1408M856.0 154V163M876.2 1417V1408M876.2 154V163M896.4 1417V1408M896.4 154V163M916.6 1417V1408M916.6 154V163M936.8 1417V1408M936.8 154V163M956.9 1417V1408M956.9 154V163M977.1 1417V1408M977.1 154V163M997.3 1417V1408M997.3 154V163M1017.5 1417V1396M1017.5 154V175M1037.7 1417V1408M1037.7 154V163M1057.9 1417V1408M1057.9 154V163M1078.0 1417V1408M1078.0 154V163M1098.2 1417V1408M1098.2 154V163M1118.4 1417V1408M1118.4 154V163M1138.6 1417V1408M1138.6 154V163M1158.8 1417V1408M1158.8 154V163M1179.0 1417V1408M1179.0 154V163M1199.1 1417V1408M1199.1 154V163M1219.3 1417V1396M1219.3 154V175M1239.5 1417V1408M1239.5 154V163M1259.7 1417V1408M1259.7 154V163M1279.9 1417V1408M1279.9 154V163M1300.1 1417V1408M1300.1 154V163M1320.2 1417V1408M1320.2 154V163M1340.4 1417V1408M1340.4 154V163M1360.6 1417V1408M1360.6 154V163M1380.8 1417V1408M1380.8 154V163M1401.0 1417V1408M1401.0 154V163M1421.2 1417V1396M1421.2 154V175M1441.3 1417V1408M1441.3 154V163M1461.5 1417V1408M1461.5 154V163M1481.7 1417V1408M1481.7 154V163M1501.9 1417V1408M1501.9 154V163M1522.1 1417V1408M1522.1 154V163M1542.2 1417V1408M1542.2 154V163M1562.4 1417V1408M1562.4 154V163M1582.6 1417V1408M1582.6 154V163M1602.8 1417V1408M1602.8 154V163M1623.0 1417V1396M1623.0 154V175M1643.2 1417V1408M1643.2 154V163M1663.3 1417V1408M1663.3 154V163M1683.5 1417V1408M1683.5 154V163M1703.7 1417V1408M1703.7 154V163M1723.9 1417V1408M1723.9 154V163M274 1386.4H284M1741 1386.4H1732M274 1352.6H284M1741 1352.6H1732M274 1318.7H284M1741 1318.7H1732M274 1284.9H284M1741 1284.9H1732M274 1251.0H296M1741 1251.0H1720M274 1217.1H284M1741 1217.1H1732M274 1183.3H284M1741 1183.3H1732M274 1149.4H284M1741 1149.4H1732M274 1115.6H284M1741 1115.6H1732M274 1081.7H296M1741 1081.7H1720M274 1047.8H284M1741 1047.8H1732M274 1014.0H284M1741 1014.0H1732M274 980.1H284M1741 980.1H1732M274 946.3H284M1741 946.3H1732M274 912.4H296M1741 912.4H1720M274 878.5H284M1741 878.5H1732M274 844.7H284M1741 844.7H1732M274 810.8H284M1741 810.8H1732M274 777.0H284M1741 777.0H1732M274 743.1H296M1741 743.1H1720M274 709.2H284M1741 709.2H1732M274 675.4H284M1741 675.4H1732M274 641.5H284M1741 641.5H1732M274 607.7H284M1741 607.7H1732M274 573.8H296M1741 573.8H1720M274 539.9H284M1741 539.9H1732M274 506.1H284M1741 506.1H1732M274 472.2H284M1741 472.2H1732M274 438.4H284M1741 438.4H1732M274 404.5H296M1741 404.5H1720M274 370.6H284M1741 370.6H1732M274 336.8H284M1741 336.8H1732M274 302.9H284M1741 302.9H1732M274 269.1H284M1741 269.1H1732M274 235.2H296M1741 235.2H1720M274 201.3H284M1741 201.3H1732M274 167.5H284M1741 167.5H1732" stroke="#000" stroke-width="6" fill="none"/><rect x="271" y="151" width="1473" height="1269" fill="none" stroke="#000" stroke-width="6"/><line x1="606.4" y1="170.6" x2="606.4" y2="1420" stroke="#808080" stroke-width="6.6" stroke-linecap="round" stroke-dasharray="0.8 28.24"/><line x1="707.0" y1="170.6" x2="707.0" y2="1420" stroke="#808080" stroke-width="6.6" stroke-linecap="round" stroke-dasharray="0.8 28.24"/><line x1="1282.2" y1="170.6" x2="1282.2" y2="1420" stroke="#808080" stroke-width="6.6" stroke-linecap="round" stroke-dasharray="0.8 28.24"/><line x1="650.0" y1="158.1" x2="650.0" y2="1417" stroke="#000" stroke-width="6" stroke-dasharray="12.2 6.22"/><line x1="1037.8" y1="158.1" x2="1037.8" y2="1417" stroke="#000" stroke-width="6" stroke-dasharray="12.2 6.22"/><line x1="1101.0" y1="158.1" x2="1101.0" y2="1417" stroke="#000" stroke-width="6" stroke-dasharray="12.2 6.22"/><ellipse cx="1039" cy="1104.7" rx="73.4" ry="105.7" fill="none" stroke="#800000" stroke-width="6.5"/><text x="243" y="1436.3" font-family="'Liberation Sans', Arial, sans-serif" font-size="53" text-anchor="end">0.0</text><text x="243" y="1267.0" font-family="'Liberation Sans', Arial, sans-serif" font-size="53" text-anchor="end">0.1</text><text x="243" y="1097.7" font-family="'Liberation Sans', Arial, sans-serif" font-size="53" text-anchor="end">0.2</text><text x="243" y="928.4" font-family="'Liberation Sans', Arial, sans-serif" font-size="53" text-anchor="end">0.3</text><text x="243" y="759.1" font-family="'Liberation Sans', Arial, sans-serif" font-size="53" text-anchor="end">0.4</text><text x="243" y="589.8" font-family="'Liberation Sans', Arial, sans-serif" font-size="53" text-anchor="end">0.5</text><text x="243" y="420.5" font-family="'Liberation Sans', Arial, sans-serif" font-size="53" text-anchor="end">0.6</text><text x="243" y="251.2" font-family="'Liberation Sans', Arial, sans-serif" font-size="53" text-anchor="end">0.7</text><text x="412.0" y="1489" font-family="'Liberation Sans', Arial, sans-serif" font-size="53" text-anchor="middle">200</text><text x="613.8" y="1489" font-family="'Liberation Sans', Arial, sans-serif" font-size="53" text-anchor="middle">300</text><text x="815.7" y="1489" font-family="'Liberation Sans', Arial, sans-serif" font-size="53" text-anchor="middle">400</text><text x="1017.5" y="1489" font-family="'Liberation Sans', Arial, sans-serif" font-size="53" text-anchor="middle">500</text><text x="1219.3" y="1489" font-family="'Liberation Sans', Arial, sans-serif" font-size="53" text-anchor="middle">600</text><text x="1421.2" y="1489" font-family="'Liberation Sans', Arial, sans-serif" font-size="53" text-anchor="middle">700</text><text x="1623.0" y="1489" font-family="'Liberation Sans', Arial, sans-serif" font-size="53" text-anchor="middle">800</text><text x="742.5" y="1595" font-family="'Liberation Sans', Arial, sans-serif" font-size="64.6">Raman shift (cm<tspan font-size="45.5" dy="-26">-1</tspan><tspan dy="26">)</tspan></text><text transform="translate(71 1108) rotate(-90)" font-family="'Liberation Sans', Arial, sans-serif" font-size="64.6">Intensity (cts mW<tspan font-size="45.5" dy="-26">-1</tspan><tspan dy="26"> s</tspan><tspan font-size="45.5" dy="-26">-1</tspan><tspan dy="26">)</tspan></text><text x="247" y="62.5" font-family="'Liberation Sans', Arial, sans-serif" font-size="48.5">Cu<tspan font-size="33" dy="12.5">4</tspan><tspan dy="-12.5">O</tspan><tspan font-size="33" dy="12.5">3</tspan></text><text x="247" y="125.5" font-family="'Liberation Sans', Arial, sans-serif" font-size="48.5" fill="#808080">CuO</text><text x="643" y="62" font-family="'Liberation Sans', Arial, sans-serif" font-size="48.5" fill="#000">E<tspan font-size="33" dy="13">g</tspan></text><text x="995" y="62" font-family="'Liberation Sans', Arial, sans-serif" font-size="48.5" fill="#000">E<tspan font-size="33" dy="13">g</tspan></text><text x="1073" y="62" font-family="'Liberation Sans', Arial, sans-serif" font-size="48.5" fill="#000">A<tspan font-size="33" dy="13">1g</tspan></text><text x="588" y="125" font-family="'Liberation Sans', Arial, sans-serif" font-size="48.5" fill="#808080">A<tspan font-size="33" dy="13">g</tspan></text><text x="693" y="125" font-family="'Liberation Sans', Arial, sans-serif" font-size="48.5" fill="#808080">B<tspan font-size="33" dy="13">1g</tspan></text><text x="1247" y="125" font-family="'Liberation Sans', Arial, sans-serif" font-size="48.5" fill="#808080">B<tspan font-size="33" dy="13">2g</tspan></text><text x="1423" y="773" font-family="'Liberation Sans', Arial, sans-serif" font-size="64" fill="#005f00">0</text><text transform="translate(1458 773.5) scale(0.95 1)" font-family="'Noto Serif CJK SC', 'Liberation Serif', serif" font-size="64" fill="#005f00">μ</text><text x="1497" y="773" font-family="'Liberation Sans', Arial, sans-serif" font-size="64.5" fill="#005f00">m</text><text x="1423" y="851" font-family="'Liberation Sans', Arial, sans-serif" font-size="64" fill="#005f00">raw data</text><text x="1321" y="1302.5" font-family="'Liberation Sans', Arial, sans-serif" font-size="64.6">BG subtract.</text></svg>
</body></html>
